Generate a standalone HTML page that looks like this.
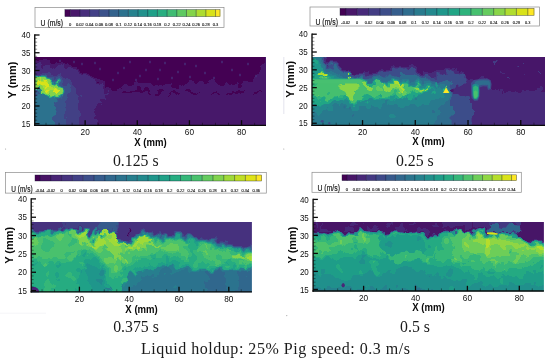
<!DOCTYPE html>
<html lang="en"><head><meta charset="utf-8"><title>Liquid holdup: 25% Pig speed: 0.3 m/s</title>
<style>html,body{margin:0;padding:0;background:#fff;overflow:hidden}svg{display:block}</style></head><body>
<svg width="550" height="361" viewBox="0 0 550 361">
<defs>
<filter id="soft2" x="-5%" y="-5%" width="110%" height="110%"><feGaussianBlur stdDeviation="0.35"/></filter>
<clipPath id="cp1"><rect x="34.75" y="57.10" width="231.25" height="68.60"/></clipPath>
<clipPath id="cp2"><rect x="312.00" y="57.10" width="233.00" height="68.50"/></clipPath>
<clipPath id="cp3"><rect x="31.20" y="221.90" width="220.70" height="70.30"/></clipPath>
<clipPath id="cp4"><rect x="313.10" y="222.10" width="230.80" height="69.20"/></clipPath>
<filter id="band1" color-interpolation-filters="sRGB" x="-5%" y="-10%" width="110%" height="120%">
<feTurbulence type="fractalNoise" baseFrequency="0.12" numOctaves="2" seed="7" result="n"/>
<feDisplacementMap in="SourceGraphic" in2="n" scale="13" xChannelSelector="R" yChannelSelector="G" result="d"/>
<feGaussianBlur in="d" stdDeviation="0.6" result="b"/>
<feTurbulence type="fractalNoise" baseFrequency="0.075" numOctaves="2" seed="11" result="n2"/>
<feColorMatrix in="n2" type="matrix" values="1 0 0 0 0  1 0 0 0 0  1 0 0 0 0  0 0 0 0 1" result="n3"/>
<feComposite in="b" in2="n3" operator="arithmetic" k1="0.22" k2="0.89" k3="0" k4="0" result="v"/>
<feComponentTransfer in="v"><feFuncR type="discrete" tableValues="0.267 0.282 0.279 0.259 0.230 0.199 0.173 0.149 0.128 0.121 0.158 0.246 0.369 0.516 0.678 0.846 0.993"/><feFuncG type="discrete" tableValues="0.005 0.095 0.175 0.252 0.322 0.388 0.449 0.508 0.567 0.626 0.684 0.739 0.789 0.831 0.864 0.887 0.906"/><feFuncB type="discrete" tableValues="0.329 0.417 0.483 0.525 0.546 0.555 0.558 0.557 0.551 0.533 0.502 0.452 0.383 0.294 0.190 0.100 0.144"/><feFuncA type="linear" slope="0" intercept="1"/></feComponentTransfer>
<feGaussianBlur stdDeviation="0.6"/>
</filter>
<filter id="band2" color-interpolation-filters="sRGB" x="-5%" y="-10%" width="110%" height="120%">
<feTurbulence type="fractalNoise" baseFrequency="0.12" numOctaves="2" seed="7" result="n"/>
<feDisplacementMap in="SourceGraphic" in2="n" scale="13" xChannelSelector="R" yChannelSelector="G" result="d"/>
<feGaussianBlur in="d" stdDeviation="0.6" result="b"/>
<feTurbulence type="fractalNoise" baseFrequency="0.075" numOctaves="2" seed="12" result="n2"/>
<feColorMatrix in="n2" type="matrix" values="1 0 0 0 0  1 0 0 0 0  1 0 0 0 0  0 0 0 0 1" result="n3"/>
<feComposite in="b" in2="n3" operator="arithmetic" k1="0.22" k2="0.89" k3="0" k4="0" result="v"/>
<feComponentTransfer in="v"><feFuncR type="discrete" tableValues="0.267 0.282 0.280 0.264 0.237 0.209 0.182 0.159 0.138 0.121 0.128 0.181 0.274 0.395 0.536 0.689 0.846 0.993"/><feFuncG type="discrete" tableValues="0.005 0.090 0.166 0.238 0.305 0.368 0.426 0.482 0.537 0.593 0.648 0.701 0.752 0.797 0.836 0.865 0.887 0.906"/><feFuncB type="discrete" tableValues="0.329 0.412 0.476 0.519 0.542 0.553 0.557 0.558 0.555 0.545 0.523 0.488 0.437 0.368 0.282 0.183 0.100 0.144"/><feFuncA type="linear" slope="0" intercept="1"/></feComponentTransfer>
<feGaussianBlur stdDeviation="0.6"/>
</filter>
<filter id="band3" color-interpolation-filters="sRGB" x="-5%" y="-10%" width="110%" height="120%">
<feTurbulence type="fractalNoise" baseFrequency="0.12" numOctaves="2" seed="7" result="n"/>
<feDisplacementMap in="SourceGraphic" in2="n" scale="13" xChannelSelector="R" yChannelSelector="G" result="d"/>
<feGaussianBlur in="d" stdDeviation="0.6" result="b"/>
<feTurbulence type="fractalNoise" baseFrequency="0.075" numOctaves="2" seed="13" result="n2"/>
<feColorMatrix in="n2" type="matrix" values="1 0 0 0 0  1 0 0 0 0  1 0 0 0 0  0 0 0 0 1" result="n3"/>
<feComposite in="b" in2="n3" operator="arithmetic" k1="0.22" k2="0.89" k3="0" k4="0" result="v"/>
<feComponentTransfer in="v"><feFuncR type="discrete" tableValues="0.267 0.280 0.283 0.275 0.259 0.237 0.212 0.191 0.171 0.153 0.136 0.122 0.122 0.150 0.208 0.289 0.395 0.506 0.627 0.752 0.876 0.993"/><feFuncG type="discrete" tableValues="0.005 0.073 0.136 0.195 0.252 0.305 0.360 0.407 0.453 0.497 0.541 0.589 0.633 0.677 0.719 0.758 0.797 0.829 0.855 0.875 0.891 0.906"/><feFuncB type="discrete" tableValues="0.329 0.397 0.453 0.496 0.525 0.542 0.552 0.556 0.558 0.558 0.554 0.546 0.530 0.507 0.473 0.428 0.368 0.300 0.223 0.143 0.095 0.144"/><feFuncA type="linear" slope="0" intercept="1"/></feComponentTransfer>
<feGaussianBlur stdDeviation="0.6"/>
</filter>
<filter id="band4" color-interpolation-filters="sRGB" x="-5%" y="-10%" width="110%" height="120%">
<feTurbulence type="fractalNoise" baseFrequency="0.12" numOctaves="2" seed="7" result="n"/>
<feDisplacementMap in="SourceGraphic" in2="n" scale="13" xChannelSelector="R" yChannelSelector="G" result="d"/>
<feGaussianBlur in="d" stdDeviation="0.6" result="b"/>
<feTurbulence type="fractalNoise" baseFrequency="0.075" numOctaves="2" seed="14" result="n2"/>
<feColorMatrix in="n2" type="matrix" values="1 0 0 0 0  1 0 0 0 0  1 0 0 0 0  0 0 0 0 1" result="n3"/>
<feComposite in="b" in2="n3" operator="arithmetic" k1="0.22" k2="0.89" k3="0" k4="0" result="v"/>
<feComponentTransfer in="v"><feFuncR type="discrete" tableValues="0.267 0.281 0.281 0.268 0.245 0.216 0.191 0.168 0.148 0.128 0.120 0.143 0.208 0.304 0.431 0.565 0.710 0.856 0.993"/><feFuncG type="discrete" tableValues="0.005 0.084 0.156 0.224 0.288 0.352 0.407 0.460 0.512 0.567 0.618 0.669 0.719 0.765 0.808 0.842 0.869 0.889 0.906"/><feFuncB type="discrete" tableValues="0.329 0.407 0.469 0.512 0.537 0.551 0.556 0.558 0.557 0.551 0.536 0.511 0.473 0.420 0.346 0.263 0.169 0.097 0.144"/><feFuncA type="linear" slope="0" intercept="1"/></feComponentTransfer>
<feGaussianBlur stdDeviation="0.6"/>
</filter>
</defs>
<rect width="550" height="361" fill="#fff"/>
<g id="plot1">
<g clip-path="url(#cp1)">
<g filter="url(#band1)">
<path d="M30.0 53.0 L270.0 53.0 L270.0 130.0 L30.0 130.0Z" fill="#080808"/>
<path d="M30.0 61.0 L60.0 61.0 L75.0 68.0 L90.0 77.0 L105.0 86.0 L118.0 92.0 L128.0 85.0 L150.0 83.0 L175.0 85.0 L190.0 82.0 L215.0 83.0 L240.0 85.0 L250.0 80.0 L258.0 74.0 L262.0 66.0 L263.0 53.0 L270.0 53.0 L270.0 130.0 L30.0 130.0Z" fill="#161616"/>
<path d="M122.0 91.5 L136.0 89.9 L150.0 91.2 L151.0 92.5 L136.0 93.3 L121.0 92.7Z" fill="#080808"/>
<path d="M156.0 92.0 L160.0 90.4 L164.0 91.7 L165.0 93.0 L160.0 93.8 L155.0 93.2Z" fill="#080808"/>
<path d="M170.0 91.8 L174.5 90.2 L179.0 91.5 L180.0 92.8 L174.5 93.6 L169.0 93.0Z" fill="#080808"/>
<path d="M186.0 92.3 L193.5 90.7 L201.0 92.0 L202.0 93.3 L193.5 94.1 L185.0 93.5Z" fill="#080808"/>
<path d="M212.0 92.5 L217.5 90.9 L223.0 92.2 L224.0 93.5 L217.5 94.3 L211.0 93.7Z" fill="#080808"/>
<path d="M228.0 92.3 L237.5 90.7 L247.0 92.0 L248.0 93.3 L237.5 94.1 L227.0 93.5Z" fill="#080808"/>
<path d="M252.0 92.0 L257.0 90.4 L262.0 91.7 L263.0 93.0 L257.0 93.8 L251.0 93.2Z" fill="#080808"/>
<path d="M30.0 64.0 L44.0 66.0 L48.0 64.5 L52.0 67.0 L58.0 65.0 L60.0 62.5 L62.0 66.0 L66.0 69.5 L70.0 67.5 L73.0 71.0 L78.0 72.0 L83.0 75.0 L88.0 78.0 L93.0 81.0 L98.0 84.0 L104.0 88.0 L108.0 92.0 L104.0 96.0 L100.0 102.0 L97.0 110.0 L95.0 118.0 L94.0 130.0 L30.0 130.0Z" fill="#262626"/>
<path d="M30.0 68.5 L42.0 69.5 L46.0 68.5 L50.0 70.5 L56.0 70.5 L60.0 68.5 L63.0 72.0 L68.0 75.0 L72.0 76.0 L76.0 79.0 L80.0 82.0 L84.0 86.0 L88.0 90.0 L90.0 95.0 L90.0 100.0 L89.0 104.0 L89.0 110.0 L90.0 118.0 L90.0 130.0 L30.0 130.0Z" fill="#262626"/>
<path d="M30.0 73.0 L40.0 74.0 L46.0 73.0 L52.0 74.0 L58.0 75.0 L62.0 77.0 L66.0 80.0 L70.0 83.0 L74.0 87.0 L78.0 92.0 L80.0 97.0 L79.0 102.0 L78.0 108.0 L78.0 116.0 L78.0 130.0 L30.0 130.0Z" fill="#343434"/>
<path d="M30.0 76.0 L40.0 76.0 L48.0 75.5 L54.0 76.5 L60.0 79.0 L64.0 82.5 L68.0 87.0 L70.0 91.0 L69.0 95.0 L67.0 98.0 L66.0 102.0 L65.0 110.0 L65.5 118.0 L66.0 130.0 L30.0 130.0Z" fill="#444444"/>
<path d="M30.0 92.0 L40.0 93.0 L48.0 95.0 L54.0 97.0 L57.0 100.0 L55.0 104.0 L54.0 110.0 L53.0 118.0 L53.0 130.0 L30.0 130.0Z" fill="#626262"/>
<path d="M27.7 77.9 L38.4 76.1 L44.2 75.9 L47.9 77.0 L51.9 78.7 L56.9 80.4 L60.3 83.1 L63.0 86.8 L64.4 91.6 L63.7 95.6 L60.9 97.9 L56.5 98.5 L53.1 97.6 L49.3 96.0 L44.8 94.2 L40.9 92.3 L36.6 90.9 L33.5 90.0 L27.5 89.2Z" fill="#626262"/>
<path d="M28.6 78.4 L39.0 76.9 L44.5 76.9 L47.9 78.0 L51.5 79.6 L56.1 81.0 L59.4 83.4 L62.0 86.9 L63.5 91.3 L62.8 95.2 L60.2 97.2 L55.9 97.7 L52.6 96.7 L49.2 95.0 L45.3 93.3 L41.7 91.8 L37.6 90.7 L34.5 89.8 L28.5 89.1Z" fill="#808080"/>
<path d="M29.4 78.7 L39.5 77.5 L44.8 77.6 L48.0 78.8 L51.2 80.3 L55.5 81.5 L58.7 83.7 L61.2 87.0 L62.7 91.2 L62.1 94.8 L59.5 96.7 L55.4 97.1 L52.3 95.9 L49.1 94.2 L45.7 92.6 L42.4 91.4 L38.3 90.5 L35.3 89.7 L29.3 89.0Z" fill="#acacac"/>
<path d="M30.0 79.0 L40.0 78.0 L45.0 78.3 L48.0 79.5 L51.0 81.0 L55.0 82.0 L58.0 84.0 L60.5 87.0 L62.0 91.0 L61.5 94.5 L59.0 96.3 L55.0 96.5 L52.0 95.3 L49.0 93.5 L46.0 92.0 L43.0 91.0 L39.0 90.3 L36.0 89.6 L30.0 89.0Z" fill="#cacaca"/>
<path d="M38.0 81.3 L42.0 80.3 L46.0 81.3 L47.5 84.0 L45.0 86.3 L41.0 86.8 L38.0 86.0Z" fill="#e8e8e8"/>
<path d="M51.5 87.0 L55.0 86.3 L58.0 88.0 L59.2 91.5 L57.5 94.3 L54.0 94.0 L51.5 91.0Z" fill="#e8e8e8"/>
<path d="M46.0 85.0 L52.0 86.0 L53.0 90.0 L49.0 91.0 L45.0 88.5Z" fill="#dadada"/>
</g>
<g filter="url(#soft2)">
<path d="M60.9 61.0 L60.5 62.3 L59.5 62.3 L59.1 61.0 L59.5 59.7 L60.5 59.7Z" fill="#472d7b"/>
<path d="M74.9 62.0 L74.5 63.3 L73.5 63.3 L73.1 62.0 L73.5 60.7 L74.5 60.7Z" fill="#472d7b"/>
<path d="M82.9 64.0 L82.5 65.3 L81.5 65.3 L81.1 64.0 L81.5 62.7 L82.5 62.7Z" fill="#472d7b"/>
<path d="M95.9 63.0 L95.5 64.3 L94.5 64.3 L94.1 63.0 L94.5 61.7 L95.5 61.7Z" fill="#472d7b"/>
<path d="M100.9 69.0 L100.5 70.3 L99.5 70.3 L99.1 69.0 L99.5 67.7 L100.5 67.7Z" fill="#472d7b"/>
<path d="M118.9 73.0 L118.5 74.3 L117.5 74.3 L117.1 73.0 L117.5 71.7 L118.5 71.7Z" fill="#472d7b"/>
<path d="M130.9 62.0 L130.4 63.3 L129.6 63.3 L129.1 62.0 L129.6 60.7 L130.4 60.7Z" fill="#472d7b"/>
<path d="M113.9 80.0 L113.5 81.3 L112.5 81.3 L112.1 80.0 L112.5 78.7 L113.5 78.7Z" fill="#472d7b"/>
<path d="M140.9 76.0 L140.4 77.3 L139.6 77.3 L139.1 76.0 L139.6 74.7 L140.4 74.7Z" fill="#472d7b"/>
<path d="M160.9 70.0 L160.4 71.3 L159.6 71.3 L159.1 70.0 L159.6 68.7 L160.4 68.7Z" fill="#472d7b"/>
<path d="M172.9 78.0 L172.4 79.3 L171.6 79.3 L171.1 78.0 L171.6 76.7 L172.4 76.7Z" fill="#472d7b"/>
<path d="M205.9 73.0 L205.4 74.3 L204.6 74.3 L204.1 73.0 L204.6 71.7 L205.4 71.7Z" fill="#472d7b"/>
<path d="M232.9 70.0 L232.4 71.3 L231.6 71.3 L231.1 70.0 L231.6 68.7 L232.4 68.7Z" fill="#472d7b"/>
<path d="M256.9 76.0 L256.4 77.3 L255.6 77.3 L255.1 76.0 L255.6 74.7 L256.4 74.7Z" fill="#472d7b"/>
<path d="M150.9 62.0 L150.4 63.3 L149.6 63.3 L149.1 62.0 L149.6 60.7 L150.4 60.7Z" fill="#472d7b"/>
<path d="M185.9 64.0 L185.4 65.3 L184.6 65.3 L184.1 64.0 L184.6 62.7 L185.4 62.7Z" fill="#472d7b"/>
<path d="M124.9 68.0 L124.5 69.3 L123.5 69.3 L123.1 68.0 L123.5 66.7 L124.5 66.7Z" fill="#472d7b"/>
<path d="M146.9 70.0 L146.4 71.3 L145.6 71.3 L145.1 70.0 L145.6 68.7 L146.4 68.7Z" fill="#472d7b"/>
<path d="M165.9 63.0 L165.4 64.3 L164.6 64.3 L164.1 63.0 L164.6 61.7 L165.4 61.7Z" fill="#472d7b"/>
<path d="M178.9 72.0 L178.4 73.3 L177.6 73.3 L177.1 72.0 L177.6 70.7 L178.4 70.7Z" fill="#472d7b"/>
<path d="M196.9 66.0 L196.4 67.3 L195.6 67.3 L195.1 66.0 L195.6 64.7 L196.4 64.7Z" fill="#472d7b"/>
<path d="M214.9 78.0 L214.4 79.3 L213.6 79.3 L213.1 78.0 L213.6 76.7 L214.4 76.7Z" fill="#472d7b"/>
<path d="M222.9 62.0 L222.4 63.3 L221.6 63.3 L221.1 62.0 L221.6 60.7 L222.4 60.7Z" fill="#472d7b"/>
<path d="M240.9 75.0 L240.4 76.3 L239.6 76.3 L239.1 75.0 L239.6 73.7 L240.4 73.7Z" fill="#472d7b"/>
<path d="M248.9 64.0 L248.4 65.3 L247.6 65.3 L247.1 64.0 L247.6 62.7 L248.4 62.7Z" fill="#472d7b"/>
<path d="M136.9 80.0 L136.4 81.3 L135.6 81.3 L135.1 80.0 L135.6 78.7 L136.4 78.7Z" fill="#472d7b"/>
<path d="M190.9 77.0 L190.4 78.3 L189.6 78.3 L189.1 77.0 L189.6 75.7 L190.4 75.7Z" fill="#472d7b"/>
<path d="M158.9 79.0 L158.4 80.3 L157.6 80.3 L157.1 79.0 L157.6 77.7 L158.4 77.7Z" fill="#472d7b"/>
</g>
</g>
<rect x="35.00" y="7.50" width="189.00" height="19.90" fill="#fff" stroke="#8a8a8a" stroke-width="0.7"/>
<rect x="64.90" y="9.60" width="5.60" height="7.00" fill="#440154"/>
<rect x="70.20" y="9.60" width="9.99" height="7.00" fill="#48186a"/>
<rect x="79.89" y="9.60" width="9.99" height="7.00" fill="#472d7b"/>
<rect x="89.58" y="9.60" width="9.99" height="7.00" fill="#424086"/>
<rect x="99.27" y="9.60" width="9.99" height="7.00" fill="#3b528b"/>
<rect x="108.96" y="9.60" width="9.99" height="7.00" fill="#33638d"/>
<rect x="118.65" y="9.60" width="9.99" height="7.00" fill="#2c728e"/>
<rect x="128.34" y="9.60" width="9.99" height="7.00" fill="#26828e"/>
<rect x="138.03" y="9.60" width="9.99" height="7.00" fill="#21918c"/>
<rect x="147.72" y="9.60" width="9.99" height="7.00" fill="#1fa088"/>
<rect x="157.41" y="9.60" width="9.99" height="7.00" fill="#28ae80"/>
<rect x="167.10" y="9.60" width="9.99" height="7.00" fill="#3fbc73"/>
<rect x="176.79" y="9.60" width="9.99" height="7.00" fill="#5ec962"/>
<rect x="186.48" y="9.60" width="9.99" height="7.00" fill="#84d44b"/>
<rect x="196.17" y="9.60" width="9.99" height="7.00" fill="#addc30"/>
<rect x="205.86" y="9.60" width="9.99" height="7.00" fill="#d8e219"/>
<rect x="215.55" y="9.60" width="4.75" height="7.00" fill="#fde725"/>
<line x1="70.20" y1="9.60" x2="70.20" y2="16.60" stroke="#141a30" stroke-opacity="0.8" stroke-width="0.55"/>
<line x1="79.89" y1="9.60" x2="79.89" y2="16.60" stroke="#141a30" stroke-opacity="0.8" stroke-width="0.55"/>
<line x1="89.58" y1="9.60" x2="89.58" y2="16.60" stroke="#141a30" stroke-opacity="0.8" stroke-width="0.55"/>
<line x1="99.27" y1="9.60" x2="99.27" y2="16.60" stroke="#141a30" stroke-opacity="0.8" stroke-width="0.55"/>
<line x1="108.96" y1="9.60" x2="108.96" y2="16.60" stroke="#141a30" stroke-opacity="0.8" stroke-width="0.55"/>
<line x1="118.65" y1="9.60" x2="118.65" y2="16.60" stroke="#141a30" stroke-opacity="0.8" stroke-width="0.55"/>
<line x1="128.34" y1="9.60" x2="128.34" y2="16.60" stroke="#141a30" stroke-opacity="0.8" stroke-width="0.55"/>
<line x1="138.03" y1="9.60" x2="138.03" y2="16.60" stroke="#141a30" stroke-opacity="0.8" stroke-width="0.55"/>
<line x1="147.72" y1="9.60" x2="147.72" y2="16.60" stroke="#141a30" stroke-opacity="0.8" stroke-width="0.55"/>
<line x1="157.41" y1="9.60" x2="157.41" y2="16.60" stroke="#141a30" stroke-opacity="0.8" stroke-width="0.55"/>
<line x1="167.10" y1="9.60" x2="167.10" y2="16.60" stroke="#141a30" stroke-opacity="0.8" stroke-width="0.55"/>
<line x1="176.79" y1="9.60" x2="176.79" y2="16.60" stroke="#141a30" stroke-opacity="0.8" stroke-width="0.55"/>
<line x1="186.48" y1="9.60" x2="186.48" y2="16.60" stroke="#141a30" stroke-opacity="0.8" stroke-width="0.55"/>
<line x1="196.17" y1="9.60" x2="196.17" y2="16.60" stroke="#141a30" stroke-opacity="0.8" stroke-width="0.55"/>
<line x1="205.86" y1="9.60" x2="205.86" y2="16.60" stroke="#141a30" stroke-opacity="0.8" stroke-width="0.55"/>
<line x1="215.55" y1="9.60" x2="215.55" y2="16.60" stroke="#141a30" stroke-opacity="0.8" stroke-width="0.55"/>
<rect x="64.90" y="9.60" width="155.10" height="7.00" fill="none" stroke="#1a2038" stroke-opacity="0.7" stroke-width="0.55"/>
<text x="40.60" y="26.40" font-family="Liberation Sans, Arial, Helvetica, sans-serif" font-size="8.5" fill="#1c1c1c" stroke="#1c1c1c" stroke-width="0.2" textLength="22.40" lengthAdjust="spacingAndGlyphs">U (m/s)</text>
<text x="70.20" y="25.70" font-family="Liberation Sans, Arial, Helvetica, sans-serif" font-size="4.25" fill="#111" stroke="#111" stroke-width="0.12" text-anchor="middle" textLength="2.27" lengthAdjust="spacingAndGlyphs">0</text>
<text x="79.89" y="25.70" font-family="Liberation Sans, Arial, Helvetica, sans-serif" font-size="4.25" fill="#111" stroke="#111" stroke-width="0.12" text-anchor="middle" textLength="7.94" lengthAdjust="spacingAndGlyphs">0.02</text>
<text x="89.58" y="25.70" font-family="Liberation Sans, Arial, Helvetica, sans-serif" font-size="4.25" fill="#111" stroke="#111" stroke-width="0.12" text-anchor="middle" textLength="7.94" lengthAdjust="spacingAndGlyphs">0.04</text>
<text x="99.27" y="25.70" font-family="Liberation Sans, Arial, Helvetica, sans-serif" font-size="4.25" fill="#111" stroke="#111" stroke-width="0.12" text-anchor="middle" textLength="7.94" lengthAdjust="spacingAndGlyphs">0.06</text>
<text x="108.96" y="25.70" font-family="Liberation Sans, Arial, Helvetica, sans-serif" font-size="4.25" fill="#111" stroke="#111" stroke-width="0.12" text-anchor="middle" textLength="7.94" lengthAdjust="spacingAndGlyphs">0.08</text>
<text x="118.65" y="25.70" font-family="Liberation Sans, Arial, Helvetica, sans-serif" font-size="4.25" fill="#111" stroke="#111" stroke-width="0.12" text-anchor="middle" textLength="5.67" lengthAdjust="spacingAndGlyphs">0.1</text>
<text x="128.34" y="25.70" font-family="Liberation Sans, Arial, Helvetica, sans-serif" font-size="4.25" fill="#111" stroke="#111" stroke-width="0.12" text-anchor="middle" textLength="7.94" lengthAdjust="spacingAndGlyphs">0.12</text>
<text x="138.03" y="25.70" font-family="Liberation Sans, Arial, Helvetica, sans-serif" font-size="4.25" fill="#111" stroke="#111" stroke-width="0.12" text-anchor="middle" textLength="7.94" lengthAdjust="spacingAndGlyphs">0.14</text>
<text x="147.72" y="25.70" font-family="Liberation Sans, Arial, Helvetica, sans-serif" font-size="4.25" fill="#111" stroke="#111" stroke-width="0.12" text-anchor="middle" textLength="7.94" lengthAdjust="spacingAndGlyphs">0.16</text>
<text x="157.41" y="25.70" font-family="Liberation Sans, Arial, Helvetica, sans-serif" font-size="4.25" fill="#111" stroke="#111" stroke-width="0.12" text-anchor="middle" textLength="7.94" lengthAdjust="spacingAndGlyphs">0.18</text>
<text x="167.10" y="25.70" font-family="Liberation Sans, Arial, Helvetica, sans-serif" font-size="4.25" fill="#111" stroke="#111" stroke-width="0.12" text-anchor="middle" textLength="5.67" lengthAdjust="spacingAndGlyphs">0.2</text>
<text x="176.79" y="25.70" font-family="Liberation Sans, Arial, Helvetica, sans-serif" font-size="4.25" fill="#111" stroke="#111" stroke-width="0.12" text-anchor="middle" textLength="7.94" lengthAdjust="spacingAndGlyphs">0.22</text>
<text x="186.48" y="25.70" font-family="Liberation Sans, Arial, Helvetica, sans-serif" font-size="4.25" fill="#111" stroke="#111" stroke-width="0.12" text-anchor="middle" textLength="7.94" lengthAdjust="spacingAndGlyphs">0.24</text>
<text x="196.17" y="25.70" font-family="Liberation Sans, Arial, Helvetica, sans-serif" font-size="4.25" fill="#111" stroke="#111" stroke-width="0.12" text-anchor="middle" textLength="7.94" lengthAdjust="spacingAndGlyphs">0.26</text>
<text x="205.86" y="25.70" font-family="Liberation Sans, Arial, Helvetica, sans-serif" font-size="4.25" fill="#111" stroke="#111" stroke-width="0.12" text-anchor="middle" textLength="7.94" lengthAdjust="spacingAndGlyphs">0.28</text>
<text x="215.55" y="25.70" font-family="Liberation Sans, Arial, Helvetica, sans-serif" font-size="4.25" fill="#111" stroke="#111" stroke-width="0.12" text-anchor="middle" textLength="5.67" lengthAdjust="spacingAndGlyphs">0.3</text>
<line x1="34.75" y1="34.30" x2="34.75" y2="126.05" stroke="#0a0a0a" stroke-width="1.35"/>
<line x1="34.10" y1="125.40" x2="266.00" y2="125.40" stroke="#0a0a0a" stroke-width="1.3"/>
<line x1="34.75" y1="123.75" x2="39.55" y2="123.75" stroke="#0a0a0a" stroke-width="1.3"/>
<text x="30.45" y="126.95" font-family="Liberation Sans, Arial, Helvetica, sans-serif" font-size="9.0" fill="#111" text-anchor="end" textLength="8.9" lengthAdjust="spacingAndGlyphs">15</text>
<line x1="34.75" y1="120.20" x2="37.15" y2="120.20" stroke="#0a0a0a" stroke-width="0.45"/>
<line x1="34.75" y1="116.65" x2="37.15" y2="116.65" stroke="#0a0a0a" stroke-width="0.45"/>
<line x1="34.75" y1="113.10" x2="37.15" y2="113.10" stroke="#0a0a0a" stroke-width="0.45"/>
<line x1="34.75" y1="109.55" x2="37.15" y2="109.55" stroke="#0a0a0a" stroke-width="0.45"/>
<line x1="34.75" y1="106.00" x2="39.55" y2="106.00" stroke="#0a0a0a" stroke-width="1.3"/>
<text x="30.45" y="109.20" font-family="Liberation Sans, Arial, Helvetica, sans-serif" font-size="9.0" fill="#111" text-anchor="end" textLength="8.9" lengthAdjust="spacingAndGlyphs">20</text>
<line x1="34.75" y1="102.45" x2="37.15" y2="102.45" stroke="#0a0a0a" stroke-width="0.45"/>
<line x1="34.75" y1="98.90" x2="37.15" y2="98.90" stroke="#0a0a0a" stroke-width="0.45"/>
<line x1="34.75" y1="95.35" x2="37.15" y2="95.35" stroke="#0a0a0a" stroke-width="0.45"/>
<line x1="34.75" y1="91.80" x2="37.15" y2="91.80" stroke="#0a0a0a" stroke-width="0.45"/>
<line x1="34.75" y1="88.25" x2="39.55" y2="88.25" stroke="#0a0a0a" stroke-width="1.3"/>
<text x="30.45" y="91.45" font-family="Liberation Sans, Arial, Helvetica, sans-serif" font-size="9.0" fill="#111" text-anchor="end" textLength="8.9" lengthAdjust="spacingAndGlyphs">25</text>
<line x1="34.75" y1="84.70" x2="37.15" y2="84.70" stroke="#0a0a0a" stroke-width="0.45"/>
<line x1="34.75" y1="81.15" x2="37.15" y2="81.15" stroke="#0a0a0a" stroke-width="0.45"/>
<line x1="34.75" y1="77.60" x2="37.15" y2="77.60" stroke="#0a0a0a" stroke-width="0.45"/>
<line x1="34.75" y1="74.05" x2="37.15" y2="74.05" stroke="#0a0a0a" stroke-width="0.45"/>
<line x1="34.75" y1="70.50" x2="39.55" y2="70.50" stroke="#0a0a0a" stroke-width="1.3"/>
<text x="30.45" y="73.70" font-family="Liberation Sans, Arial, Helvetica, sans-serif" font-size="9.0" fill="#111" text-anchor="end" textLength="8.9" lengthAdjust="spacingAndGlyphs">30</text>
<line x1="34.75" y1="66.95" x2="37.15" y2="66.95" stroke="#0a0a0a" stroke-width="0.45"/>
<line x1="34.75" y1="63.40" x2="37.15" y2="63.40" stroke="#0a0a0a" stroke-width="0.45"/>
<line x1="34.75" y1="59.85" x2="37.15" y2="59.85" stroke="#0a0a0a" stroke-width="0.45"/>
<line x1="34.75" y1="56.30" x2="37.15" y2="56.30" stroke="#0a0a0a" stroke-width="0.45"/>
<line x1="34.75" y1="52.75" x2="39.55" y2="52.75" stroke="#0a0a0a" stroke-width="1.3"/>
<text x="30.45" y="55.95" font-family="Liberation Sans, Arial, Helvetica, sans-serif" font-size="9.0" fill="#111" text-anchor="end" textLength="8.9" lengthAdjust="spacingAndGlyphs">35</text>
<line x1="34.75" y1="49.20" x2="37.15" y2="49.20" stroke="#0a0a0a" stroke-width="0.45"/>
<line x1="34.75" y1="45.65" x2="37.15" y2="45.65" stroke="#0a0a0a" stroke-width="0.45"/>
<line x1="34.75" y1="42.10" x2="37.15" y2="42.10" stroke="#0a0a0a" stroke-width="0.45"/>
<line x1="34.75" y1="38.55" x2="37.15" y2="38.55" stroke="#0a0a0a" stroke-width="0.45"/>
<line x1="34.75" y1="35.00" x2="39.55" y2="35.00" stroke="#0a0a0a" stroke-width="1.3"/>
<text x="30.45" y="38.20" font-family="Liberation Sans, Arial, Helvetica, sans-serif" font-size="9.0" fill="#111" text-anchor="end" textLength="8.9" lengthAdjust="spacingAndGlyphs">40</text>
<line x1="46.03" y1="125.40" x2="46.03" y2="122.80" stroke="#0a0a0a" stroke-width="0.45"/>
<line x1="59.07" y1="125.40" x2="59.07" y2="122.80" stroke="#0a0a0a" stroke-width="0.45"/>
<line x1="72.11" y1="125.40" x2="72.11" y2="122.80" stroke="#0a0a0a" stroke-width="0.45"/>
<line x1="85.14" y1="125.40" x2="85.14" y2="120.20" stroke="#0a0a0a" stroke-width="1.3"/>
<text x="85.14" y="135.20" font-family="Liberation Sans, Arial, Helvetica, sans-serif" font-size="8.9" fill="#111" text-anchor="middle" textLength="9.2" lengthAdjust="spacingAndGlyphs">20</text>
<line x1="98.18" y1="125.40" x2="98.18" y2="122.80" stroke="#0a0a0a" stroke-width="0.45"/>
<line x1="111.21" y1="125.40" x2="111.21" y2="122.80" stroke="#0a0a0a" stroke-width="0.45"/>
<line x1="124.25" y1="125.40" x2="124.25" y2="122.80" stroke="#0a0a0a" stroke-width="0.45"/>
<line x1="137.28" y1="125.40" x2="137.28" y2="120.20" stroke="#0a0a0a" stroke-width="1.3"/>
<text x="137.28" y="135.20" font-family="Liberation Sans, Arial, Helvetica, sans-serif" font-size="8.9" fill="#111" text-anchor="middle" textLength="9.2" lengthAdjust="spacingAndGlyphs">40</text>
<line x1="150.31" y1="125.40" x2="150.31" y2="122.80" stroke="#0a0a0a" stroke-width="0.45"/>
<line x1="163.35" y1="125.40" x2="163.35" y2="122.80" stroke="#0a0a0a" stroke-width="0.45"/>
<line x1="176.39" y1="125.40" x2="176.39" y2="122.80" stroke="#0a0a0a" stroke-width="0.45"/>
<line x1="189.42" y1="125.40" x2="189.42" y2="120.20" stroke="#0a0a0a" stroke-width="1.3"/>
<text x="189.42" y="135.20" font-family="Liberation Sans, Arial, Helvetica, sans-serif" font-size="8.9" fill="#111" text-anchor="middle" textLength="9.2" lengthAdjust="spacingAndGlyphs">60</text>
<line x1="202.46" y1="125.40" x2="202.46" y2="122.80" stroke="#0a0a0a" stroke-width="0.45"/>
<line x1="215.49" y1="125.40" x2="215.49" y2="122.80" stroke="#0a0a0a" stroke-width="0.45"/>
<line x1="228.53" y1="125.40" x2="228.53" y2="122.80" stroke="#0a0a0a" stroke-width="0.45"/>
<line x1="241.56" y1="125.40" x2="241.56" y2="120.20" stroke="#0a0a0a" stroke-width="1.3"/>
<text x="241.56" y="135.20" font-family="Liberation Sans, Arial, Helvetica, sans-serif" font-size="8.9" fill="#111" text-anchor="middle" textLength="9.2" lengthAdjust="spacingAndGlyphs">80</text>
<line x1="254.60" y1="125.40" x2="254.60" y2="122.80" stroke="#0a0a0a" stroke-width="0.45"/>
<text x="150.38" y="146.20" font-family="Liberation Sans, Arial, Helvetica, sans-serif" font-size="11" font-weight="bold" fill="#0a0a0a" text-anchor="middle" textLength="32.4" lengthAdjust="spacingAndGlyphs">X (mm)</text>
<text transform="translate(16.40 79.97) rotate(-90)" font-family="Liberation Sans, Arial, Helvetica, sans-serif" font-size="10.6" font-weight="bold" fill="#0a0a0a" text-anchor="middle" textLength="37" lengthAdjust="spacingAndGlyphs">Y (mm)</text>
<text x="135.80" y="165.80" font-family="Liberation Serif, DejaVu Serif, serif" font-size="15.8" fill="#1a1a1a" text-anchor="middle">0.125 s</text>
</g>
<g id="plot2">
<g clip-path="url(#cp2)">
<g filter="url(#band2)">
<path d="M303.0 48.0 L554.0 48.0 L554.0 134.0 L303.0 134.0Z" fill="#151515"/>
<path d="M303.0 48.0 L322.0 48.0 L328.0 60.0 L336.0 65.0 L344.0 69.0 L352.0 72.0 L360.0 74.0 L368.0 73.5 L376.0 71.0 L384.0 68.0 L392.0 67.0 L400.0 66.5 L410.0 66.5 L418.0 67.5 L422.0 71.0 L430.0 73.0 L438.0 72.0 L442.0 69.5 L450.0 68.5 L458.0 70.5 L464.0 74.0 L467.0 78.0 L470.0 80.0 L478.0 79.0 L487.0 80.0 L490.0 88.0 L500.0 91.0 L515.0 92.0 L530.0 90.0 L554.0 91.0 L554.0 134.0 L303.0 134.0Z" fill="#232323"/>
<path d="M303.0 48.0 L320.0 48.0 L326.0 61.0 L334.0 66.0 L342.0 70.0 L350.0 73.0 L358.0 75.0 L366.0 76.0 L374.0 74.0 L382.0 71.0 L390.0 70.0 L398.0 69.5 L406.0 69.5 L414.0 70.0 L420.0 72.0 L424.0 75.5 L432.0 77.0 L438.0 76.0 L444.0 73.0 L452.0 72.0 L458.0 73.5 L464.0 76.5 L467.0 80.0 L466.0 84.0 L460.0 85.0 L455.0 86.0 L453.5 90.0 L454.0 95.0 L458.0 97.0 L464.0 97.0 L470.0 98.0 L472.0 104.0 L472.0 112.0 L473.0 134.0 L303.0 134.0Z" fill="#404040"/>
<path d="M303.0 48.0 L318.0 48.0 L324.0 61.0 L330.0 66.0 L338.0 70.0 L346.0 74.0 L354.0 77.0 L362.0 79.0 L370.0 79.0 L378.0 77.0 L386.0 75.5 L394.0 75.5 L402.0 75.0 L410.0 75.0 L418.0 76.0 L424.0 79.0 L432.0 80.5 L440.0 80.5 L446.0 80.5 L451.0 82.5 L452.5 86.0 L452.0 92.0 L451.0 97.0 L452.0 104.0 L452.0 112.0 L451.0 134.0 L303.0 134.0Z" fill="#5c5c5c"/>
<path d="M303.0 48.0 L316.0 48.0 L321.0 62.0 L326.0 67.0 L332.0 71.0 L340.0 75.0 L348.0 78.0 L356.0 80.0 L364.0 81.0 L372.0 80.5 L380.0 80.5 L388.0 80.5 L396.0 79.8 L404.0 79.8 L412.0 80.6 L420.0 81.6 L428.0 82.6 L436.0 83.6 L444.0 85.0 L449.0 88.0 L450.0 94.0 L448.0 100.0 L444.0 104.0 L440.0 108.0 L438.0 114.0 L436.0 120.0 L436.0 134.0 L303.0 134.0Z" fill="#6a6a6a"/>
<path d="M303.0 58.0 L315.0 60.0 L319.0 64.0 L323.0 69.0 L329.0 73.0 L337.0 76.0 L345.0 79.0 L354.0 81.0 L362.0 82.0 L372.0 82.0 L382.0 82.0 L392.0 81.0 L402.0 81.0 L412.0 82.0 L422.0 83.0 L432.0 85.0 L440.0 87.0 L446.0 89.0 L448.0 93.0 L445.0 97.0 L440.0 100.0 L434.0 104.0 L428.0 108.0 L420.0 110.0 L410.0 112.0 L400.0 114.0 L392.0 118.0 L386.0 134.0 L303.0 134.0Z" fill="#6a6a6a"/>
<path d="M303.0 60.0 L316.0 62.0 L320.0 66.0 L324.0 70.0 L330.0 74.0 L338.0 77.0 L346.0 79.0 L354.0 81.0 L362.0 82.0 L372.0 82.0 L382.0 82.0 L392.0 81.0 L402.0 81.0 L412.0 82.0 L422.0 83.0 L432.0 85.0 L440.0 87.0 L446.0 89.0 L448.0 93.0 L445.0 97.0 L440.0 98.0 L434.0 100.0 L428.0 104.0 L422.0 102.0 L416.0 106.0 L410.0 104.0 L404.0 108.0 L398.0 106.0 L392.0 104.0 L386.0 106.0 L380.0 108.0 L372.0 106.0 L364.0 108.0 L356.0 110.0 L348.0 108.0 L340.0 106.0 L332.0 108.0 L324.0 110.0 L318.0 112.0 L303.0 114.0Z" fill="#787878"/>
<path d="M303.0 58.0 L314.0 59.5 L319.0 63.0 L322.0 68.0 L325.0 73.0 L330.0 77.0 L336.0 79.5 L303.0 79.5Z" fill="#878787"/>
<path d="M303.0 70.0 L316.0 72.0 L320.0 75.0 L326.0 78.0 L334.0 79.0 L342.0 79.5 L350.0 79.5 L358.0 80.0 L366.0 82.0 L374.0 82.0 L382.0 83.0 L392.0 82.5 L402.0 82.5 L412.0 83.0 L422.0 85.0 L430.0 87.0 L434.0 89.0 L432.0 92.0 L426.0 93.0 L420.0 94.0 L414.0 96.0 L408.0 99.0 L402.0 97.0 L396.0 99.0 L390.0 100.0 L384.0 98.0 L378.0 99.0 L372.0 101.0 L366.0 100.0 L360.0 103.0 L354.0 104.0 L348.0 102.0 L342.0 101.0 L336.0 102.0 L330.0 103.0 L324.0 102.0 L318.0 103.0 L303.0 104.0Z" fill="#959595"/>
<path d="M303.0 79.0 L330.0 79.5 L350.0 79.5 L360.0 80.5 L368.0 83.0 L376.0 83.0 L386.0 84.0 L396.0 83.5 L406.0 83.5 L416.0 85.0 L424.0 87.0 L430.0 88.5 L430.0 90.5 L424.0 91.5 L416.0 92.0 L408.0 95.0 L402.0 96.5 L398.0 95.0 L392.0 96.0 L386.0 97.5 L382.0 96.5 L378.0 95.5 L372.0 97.5 L366.0 96.5 L362.0 98.5 L358.0 100.5 L354.0 102.0 L350.0 100.0 L346.0 97.0 L340.0 98.0 L334.0 97.0 L328.0 99.0 L322.0 98.0 L316.0 99.0 L303.0 98.0Z" fill="#b1b1b1"/>
<path d="M342.0 82.0 L348.0 80.5 L354.0 82.0 L357.0 86.0 L356.0 92.0 L353.0 98.0 L349.0 100.0 L346.0 96.0 L343.0 90.0Z" fill="#cdcdcd"/>
<path d="M364.0 83.0 L370.0 83.0 L372.0 87.0 L368.0 89.0 L364.0 87.0Z" fill="#cdcdcd"/>
<path d="M384.0 85.0 L392.0 84.0 L400.0 84.0 L406.0 86.0 L404.0 90.0 L398.0 92.0 L394.0 90.0 L388.0 91.0 L384.0 89.0Z" fill="#cdcdcd"/>
<path d="M418.0 87.0 L430.0 88.5 L430.0 90.0 L420.0 90.5 L417.0 89.0Z" fill="#cdcdcd"/>
<path d="M398.0 84.0 L404.0 84.5 L405.0 87.0 L400.0 88.0 L397.0 86.0Z" fill="#dcdcdc"/>
<path d="M420.0 87.5 L428.0 88.5 L428.0 90.0 L420.0 89.5Z" fill="#dcdcdc"/>
<path d="M446.2 86.6 L450.0 93.6 L442.4 93.6Z" fill="#cdcdcd"/>
<path d="M318.5 74.5 L322.0 73.3 L325.0 74.0 L328.0 73.3 L329.5 76.0 L326.0 77.8 L322.0 77.2 L318.5 77.3Z" fill="#dcdcdc"/>
<path d="M347.8 75.0 L350.5 74.3 L351.3 77.8 L348.3 78.2Z" fill="#dcdcdc"/>
<ellipse cx="452.2" cy="90.7" rx="1.5" ry="1.5" fill="#151515"/>
<ellipse cx="436.8" cy="83.0" rx="1.6" ry="3.0" fill="#878787"/>
<ellipse cx="498.0" cy="62.0" rx="0.9" ry="1.6" fill="#323232"/>
<ellipse cx="503.0" cy="70.0" rx="0.9" ry="1.6" fill="#323232"/>
<ellipse cx="520.0" cy="66.0" rx="0.9" ry="1.6" fill="#323232"/>
<ellipse cx="524.0" cy="74.0" rx="0.9" ry="1.6" fill="#323232"/>
<ellipse cx="538.0" cy="73.0" rx="0.9" ry="1.6" fill="#323232"/>
<ellipse cx="508.0" cy="78.0" rx="0.9" ry="1.6" fill="#323232"/>
</g>
<g filter="url(#soft2)">
<path d="M323.8 121.3 L323.3 122.3 L322.2 122.7 L321.1 122.3 L320.6 121.3 L321.1 120.3 L322.2 119.9 L323.3 120.3Z" fill="#3d4e8a"/>
<path d="M330.6 123.2 L330.2 124.0 L329.3 124.3 L328.4 124.0 L328.0 123.2 L328.4 122.4 L329.3 122.1 L330.2 122.4Z" fill="#3d4e8a"/>
<path d="M345.5 107.0 L345.2 108.0 L344.5 108.4 L343.8 108.0 L343.5 107.0 L343.8 106.0 L344.5 105.6 L345.2 106.0Z" fill="#2e6d8e"/>
<path d="M351.0 108.0 L350.7 109.1 L350.0 109.5 L349.3 109.1 L349.0 108.0 L349.3 106.9 L350.0 106.5 L350.7 106.9Z" fill="#2e6d8e"/>
<path d="M303.0 78.6 L362.0 78.6 L366.0 80.5 L362.0 82.0 L303.0 82.0Z" fill="#21a585"/>
<path d="M303.0 79.3 L360.0 79.3 L364.0 81.0 L360.0 83.5 L303.0 83.5Z" fill="#46c06f"/>
<path d="M446.2 87.4 L449.2 93.0 L443.0 93.0Z" fill="#fde725"/>
<path d="M453.7 90.7 L453.3 91.8 L452.2 92.2 L451.1 91.8 L450.7 90.7 L451.1 89.6 L452.2 89.2 L453.3 89.6Z" fill="#481769"/>
<path d="M471.0 83.0 L474.0 80.0 L480.0 79.0 L486.0 78.6 L490.5 80.0 L491.5 84.0 L491.0 89.0 L488.0 90.0 L487.0 86.5 L483.0 86.3 L479.5 87.5 L479.5 96.0 L478.0 100.5 L474.5 101.0 L471.5 98.0 L471.0 90.0Z" fill="#3d4e8a"/>
<path d="M474.5 82.0 L478.0 80.6 L484.0 80.2 L489.0 80.6 L490.3 83.0 L490.0 88.0 L488.6 88.4 L488.0 85.0 L483.0 84.8 L479.0 85.6 L476.0 85.6Z" fill="#2e6d8e"/>
<path d="M472.4 85.0 L475.0 83.6 L478.8 85.0 L479.2 90.0 L479.0 96.0 L477.2 99.6 L474.0 99.2 L472.6 96.0 L472.3 90.0Z" fill="#23898e"/>
<path d="M473.2 87.0 L475.5 85.6 L478.0 87.0 L478.3 92.0 L478.0 96.5 L476.3 98.8 L474.0 98.4 L473.3 95.0 L473.1 90.0Z" fill="#2eb37c"/>
<path d="M473.8 91.5 L475.7 90.3 L477.5 92.0 L477.4 96.0 L476.0 98.1 L474.4 97.7 L473.8 95.0Z" fill="#46c06f"/>
</g>
</g>
<rect x="310.00" y="7.00" width="229.50" height="19.00" fill="#fff" stroke="#8a8a8a" stroke-width="0.7"/>
<rect x="340.00" y="8.30" width="6.10" height="7.10" fill="#440154"/>
<rect x="345.80" y="8.30" width="11.68" height="7.10" fill="#481769"/>
<rect x="357.18" y="8.30" width="11.68" height="7.10" fill="#472a7a"/>
<rect x="368.55" y="8.30" width="11.68" height="7.10" fill="#433d84"/>
<rect x="379.93" y="8.30" width="11.68" height="7.10" fill="#3d4e8a"/>
<rect x="391.30" y="8.30" width="11.68" height="7.10" fill="#355e8d"/>
<rect x="402.68" y="8.30" width="11.68" height="7.10" fill="#2e6d8e"/>
<rect x="414.05" y="8.30" width="11.68" height="7.10" fill="#297b8e"/>
<rect x="425.43" y="8.30" width="11.68" height="7.10" fill="#23898e"/>
<rect x="436.80" y="8.30" width="11.68" height="7.10" fill="#1f978b"/>
<rect x="448.18" y="8.30" width="11.68" height="7.10" fill="#21a585"/>
<rect x="459.55" y="8.30" width="11.68" height="7.10" fill="#2eb37c"/>
<rect x="470.93" y="8.30" width="11.68" height="7.10" fill="#46c06f"/>
<rect x="482.30" y="8.30" width="11.68" height="7.10" fill="#65cb5e"/>
<rect x="493.68" y="8.30" width="11.68" height="7.10" fill="#89d548"/>
<rect x="505.05" y="8.30" width="11.67" height="7.10" fill="#b0dd2f"/>
<rect x="516.42" y="8.30" width="11.68" height="7.10" fill="#d8e219"/>
<rect x="527.80" y="8.30" width="6.50" height="7.10" fill="#fde725"/>
<line x1="345.80" y1="8.30" x2="345.80" y2="15.40" stroke="#141a30" stroke-opacity="0.8" stroke-width="0.55"/>
<line x1="357.18" y1="8.30" x2="357.18" y2="15.40" stroke="#141a30" stroke-opacity="0.8" stroke-width="0.55"/>
<line x1="368.55" y1="8.30" x2="368.55" y2="15.40" stroke="#141a30" stroke-opacity="0.8" stroke-width="0.55"/>
<line x1="379.93" y1="8.30" x2="379.93" y2="15.40" stroke="#141a30" stroke-opacity="0.8" stroke-width="0.55"/>
<line x1="391.30" y1="8.30" x2="391.30" y2="15.40" stroke="#141a30" stroke-opacity="0.8" stroke-width="0.55"/>
<line x1="402.68" y1="8.30" x2="402.68" y2="15.40" stroke="#141a30" stroke-opacity="0.8" stroke-width="0.55"/>
<line x1="414.05" y1="8.30" x2="414.05" y2="15.40" stroke="#141a30" stroke-opacity="0.8" stroke-width="0.55"/>
<line x1="425.43" y1="8.30" x2="425.43" y2="15.40" stroke="#141a30" stroke-opacity="0.8" stroke-width="0.55"/>
<line x1="436.80" y1="8.30" x2="436.80" y2="15.40" stroke="#141a30" stroke-opacity="0.8" stroke-width="0.55"/>
<line x1="448.18" y1="8.30" x2="448.18" y2="15.40" stroke="#141a30" stroke-opacity="0.8" stroke-width="0.55"/>
<line x1="459.55" y1="8.30" x2="459.55" y2="15.40" stroke="#141a30" stroke-opacity="0.8" stroke-width="0.55"/>
<line x1="470.93" y1="8.30" x2="470.93" y2="15.40" stroke="#141a30" stroke-opacity="0.8" stroke-width="0.55"/>
<line x1="482.30" y1="8.30" x2="482.30" y2="15.40" stroke="#141a30" stroke-opacity="0.8" stroke-width="0.55"/>
<line x1="493.68" y1="8.30" x2="493.68" y2="15.40" stroke="#141a30" stroke-opacity="0.8" stroke-width="0.55"/>
<line x1="505.05" y1="8.30" x2="505.05" y2="15.40" stroke="#141a30" stroke-opacity="0.8" stroke-width="0.55"/>
<line x1="516.42" y1="8.30" x2="516.42" y2="15.40" stroke="#141a30" stroke-opacity="0.8" stroke-width="0.55"/>
<line x1="527.80" y1="8.30" x2="527.80" y2="15.40" stroke="#141a30" stroke-opacity="0.8" stroke-width="0.55"/>
<rect x="340.00" y="8.30" width="194.00" height="7.10" fill="none" stroke="#1a2038" stroke-opacity="0.7" stroke-width="0.55"/>
<text x="315.50" y="25.00" font-family="Liberation Sans, Arial, Helvetica, sans-serif" font-size="8.5" fill="#1c1c1c" stroke="#1c1c1c" stroke-width="0.2" textLength="22.50" lengthAdjust="spacingAndGlyphs">U (m/s)</text>
<text x="345.80" y="24.00" font-family="Liberation Sans, Arial, Helvetica, sans-serif" font-size="4.05" fill="#111" stroke="#111" stroke-width="0.12" text-anchor="middle" textLength="8.86" lengthAdjust="spacingAndGlyphs">-0.02</text>
<text x="357.18" y="24.00" font-family="Liberation Sans, Arial, Helvetica, sans-serif" font-size="4.05" fill="#111" stroke="#111" stroke-width="0.12" text-anchor="middle" textLength="2.16" lengthAdjust="spacingAndGlyphs">0</text>
<text x="368.55" y="24.00" font-family="Liberation Sans, Arial, Helvetica, sans-serif" font-size="4.05" fill="#111" stroke="#111" stroke-width="0.12" text-anchor="middle" textLength="7.57" lengthAdjust="spacingAndGlyphs">0.02</text>
<text x="379.93" y="24.00" font-family="Liberation Sans, Arial, Helvetica, sans-serif" font-size="4.05" fill="#111" stroke="#111" stroke-width="0.12" text-anchor="middle" textLength="7.57" lengthAdjust="spacingAndGlyphs">0.04</text>
<text x="391.30" y="24.00" font-family="Liberation Sans, Arial, Helvetica, sans-serif" font-size="4.05" fill="#111" stroke="#111" stroke-width="0.12" text-anchor="middle" textLength="7.57" lengthAdjust="spacingAndGlyphs">0.06</text>
<text x="402.68" y="24.00" font-family="Liberation Sans, Arial, Helvetica, sans-serif" font-size="4.05" fill="#111" stroke="#111" stroke-width="0.12" text-anchor="middle" textLength="7.57" lengthAdjust="spacingAndGlyphs">0.08</text>
<text x="414.05" y="24.00" font-family="Liberation Sans, Arial, Helvetica, sans-serif" font-size="4.05" fill="#111" stroke="#111" stroke-width="0.12" text-anchor="middle" textLength="5.40" lengthAdjust="spacingAndGlyphs">0.1</text>
<text x="425.43" y="24.00" font-family="Liberation Sans, Arial, Helvetica, sans-serif" font-size="4.05" fill="#111" stroke="#111" stroke-width="0.12" text-anchor="middle" textLength="7.57" lengthAdjust="spacingAndGlyphs">0.12</text>
<text x="436.80" y="24.00" font-family="Liberation Sans, Arial, Helvetica, sans-serif" font-size="4.05" fill="#111" stroke="#111" stroke-width="0.12" text-anchor="middle" textLength="7.57" lengthAdjust="spacingAndGlyphs">0.14</text>
<text x="448.18" y="24.00" font-family="Liberation Sans, Arial, Helvetica, sans-serif" font-size="4.05" fill="#111" stroke="#111" stroke-width="0.12" text-anchor="middle" textLength="7.57" lengthAdjust="spacingAndGlyphs">0.16</text>
<text x="459.55" y="24.00" font-family="Liberation Sans, Arial, Helvetica, sans-serif" font-size="4.05" fill="#111" stroke="#111" stroke-width="0.12" text-anchor="middle" textLength="7.57" lengthAdjust="spacingAndGlyphs">0.18</text>
<text x="470.93" y="24.00" font-family="Liberation Sans, Arial, Helvetica, sans-serif" font-size="4.05" fill="#111" stroke="#111" stroke-width="0.12" text-anchor="middle" textLength="5.40" lengthAdjust="spacingAndGlyphs">0.2</text>
<text x="482.30" y="24.00" font-family="Liberation Sans, Arial, Helvetica, sans-serif" font-size="4.05" fill="#111" stroke="#111" stroke-width="0.12" text-anchor="middle" textLength="7.57" lengthAdjust="spacingAndGlyphs">0.22</text>
<text x="493.68" y="24.00" font-family="Liberation Sans, Arial, Helvetica, sans-serif" font-size="4.05" fill="#111" stroke="#111" stroke-width="0.12" text-anchor="middle" textLength="7.57" lengthAdjust="spacingAndGlyphs">0.24</text>
<text x="505.05" y="24.00" font-family="Liberation Sans, Arial, Helvetica, sans-serif" font-size="4.05" fill="#111" stroke="#111" stroke-width="0.12" text-anchor="middle" textLength="7.57" lengthAdjust="spacingAndGlyphs">0.26</text>
<text x="516.42" y="24.00" font-family="Liberation Sans, Arial, Helvetica, sans-serif" font-size="4.05" fill="#111" stroke="#111" stroke-width="0.12" text-anchor="middle" textLength="7.57" lengthAdjust="spacingAndGlyphs">0.28</text>
<text x="527.80" y="24.00" font-family="Liberation Sans, Arial, Helvetica, sans-serif" font-size="4.05" fill="#111" stroke="#111" stroke-width="0.12" text-anchor="middle" textLength="5.40" lengthAdjust="spacingAndGlyphs">0.3</text>
<line x1="312.00" y1="33.50" x2="312.00" y2="125.95" stroke="#0a0a0a" stroke-width="1.35"/>
<line x1="311.35" y1="125.30" x2="545.00" y2="125.30" stroke="#0a0a0a" stroke-width="1.3"/>
<line x1="312.00" y1="123.25" x2="316.80" y2="123.25" stroke="#0a0a0a" stroke-width="1.3"/>
<text x="307.70" y="126.45" font-family="Liberation Sans, Arial, Helvetica, sans-serif" font-size="9.0" fill="#111" text-anchor="end" textLength="8.9" lengthAdjust="spacingAndGlyphs">15</text>
<line x1="312.00" y1="119.69" x2="314.40" y2="119.69" stroke="#0a0a0a" stroke-width="0.45"/>
<line x1="312.00" y1="116.13" x2="314.40" y2="116.13" stroke="#0a0a0a" stroke-width="0.45"/>
<line x1="312.00" y1="112.56" x2="314.40" y2="112.56" stroke="#0a0a0a" stroke-width="0.45"/>
<line x1="312.00" y1="109.00" x2="314.40" y2="109.00" stroke="#0a0a0a" stroke-width="0.45"/>
<line x1="312.00" y1="105.44" x2="316.80" y2="105.44" stroke="#0a0a0a" stroke-width="1.3"/>
<text x="307.70" y="108.64" font-family="Liberation Sans, Arial, Helvetica, sans-serif" font-size="9.0" fill="#111" text-anchor="end" textLength="8.9" lengthAdjust="spacingAndGlyphs">20</text>
<line x1="312.00" y1="101.88" x2="314.40" y2="101.88" stroke="#0a0a0a" stroke-width="0.45"/>
<line x1="312.00" y1="98.32" x2="314.40" y2="98.32" stroke="#0a0a0a" stroke-width="0.45"/>
<line x1="312.00" y1="94.75" x2="314.40" y2="94.75" stroke="#0a0a0a" stroke-width="0.45"/>
<line x1="312.00" y1="91.19" x2="314.40" y2="91.19" stroke="#0a0a0a" stroke-width="0.45"/>
<line x1="312.00" y1="87.63" x2="316.80" y2="87.63" stroke="#0a0a0a" stroke-width="1.3"/>
<text x="307.70" y="90.83" font-family="Liberation Sans, Arial, Helvetica, sans-serif" font-size="9.0" fill="#111" text-anchor="end" textLength="8.9" lengthAdjust="spacingAndGlyphs">25</text>
<line x1="312.00" y1="84.07" x2="314.40" y2="84.07" stroke="#0a0a0a" stroke-width="0.45"/>
<line x1="312.00" y1="80.51" x2="314.40" y2="80.51" stroke="#0a0a0a" stroke-width="0.45"/>
<line x1="312.00" y1="76.94" x2="314.40" y2="76.94" stroke="#0a0a0a" stroke-width="0.45"/>
<line x1="312.00" y1="73.38" x2="314.40" y2="73.38" stroke="#0a0a0a" stroke-width="0.45"/>
<line x1="312.00" y1="69.82" x2="316.80" y2="69.82" stroke="#0a0a0a" stroke-width="1.3"/>
<text x="307.70" y="73.02" font-family="Liberation Sans, Arial, Helvetica, sans-serif" font-size="9.0" fill="#111" text-anchor="end" textLength="8.9" lengthAdjust="spacingAndGlyphs">30</text>
<line x1="312.00" y1="66.26" x2="314.40" y2="66.26" stroke="#0a0a0a" stroke-width="0.45"/>
<line x1="312.00" y1="62.70" x2="314.40" y2="62.70" stroke="#0a0a0a" stroke-width="0.45"/>
<line x1="312.00" y1="59.13" x2="314.40" y2="59.13" stroke="#0a0a0a" stroke-width="0.45"/>
<line x1="312.00" y1="55.57" x2="314.40" y2="55.57" stroke="#0a0a0a" stroke-width="0.45"/>
<line x1="312.00" y1="52.01" x2="316.80" y2="52.01" stroke="#0a0a0a" stroke-width="1.3"/>
<text x="307.70" y="55.21" font-family="Liberation Sans, Arial, Helvetica, sans-serif" font-size="9.0" fill="#111" text-anchor="end" textLength="8.9" lengthAdjust="spacingAndGlyphs">35</text>
<line x1="312.00" y1="48.45" x2="314.40" y2="48.45" stroke="#0a0a0a" stroke-width="0.45"/>
<line x1="312.00" y1="44.89" x2="314.40" y2="44.89" stroke="#0a0a0a" stroke-width="0.45"/>
<line x1="312.00" y1="41.32" x2="314.40" y2="41.32" stroke="#0a0a0a" stroke-width="0.45"/>
<line x1="312.00" y1="37.76" x2="314.40" y2="37.76" stroke="#0a0a0a" stroke-width="0.45"/>
<line x1="312.00" y1="34.20" x2="316.80" y2="34.20" stroke="#0a0a0a" stroke-width="1.3"/>
<text x="307.70" y="37.40" font-family="Liberation Sans, Arial, Helvetica, sans-serif" font-size="9.0" fill="#111" text-anchor="end" textLength="8.9" lengthAdjust="spacingAndGlyphs">40</text>
<line x1="322.99" y1="125.30" x2="322.99" y2="122.70" stroke="#0a0a0a" stroke-width="0.45"/>
<line x1="336.17" y1="125.30" x2="336.17" y2="122.70" stroke="#0a0a0a" stroke-width="0.45"/>
<line x1="349.36" y1="125.30" x2="349.36" y2="122.70" stroke="#0a0a0a" stroke-width="0.45"/>
<line x1="362.54" y1="125.30" x2="362.54" y2="120.10" stroke="#0a0a0a" stroke-width="1.3"/>
<text x="362.54" y="135.00" font-family="Liberation Sans, Arial, Helvetica, sans-serif" font-size="8.9" fill="#111" text-anchor="middle" textLength="9.2" lengthAdjust="spacingAndGlyphs">20</text>
<line x1="375.73" y1="125.30" x2="375.73" y2="122.70" stroke="#0a0a0a" stroke-width="0.45"/>
<line x1="388.91" y1="125.30" x2="388.91" y2="122.70" stroke="#0a0a0a" stroke-width="0.45"/>
<line x1="402.10" y1="125.30" x2="402.10" y2="122.70" stroke="#0a0a0a" stroke-width="0.45"/>
<line x1="415.28" y1="125.30" x2="415.28" y2="120.10" stroke="#0a0a0a" stroke-width="1.3"/>
<text x="415.28" y="135.00" font-family="Liberation Sans, Arial, Helvetica, sans-serif" font-size="8.9" fill="#111" text-anchor="middle" textLength="9.2" lengthAdjust="spacingAndGlyphs">40</text>
<line x1="428.47" y1="125.30" x2="428.47" y2="122.70" stroke="#0a0a0a" stroke-width="0.45"/>
<line x1="441.65" y1="125.30" x2="441.65" y2="122.70" stroke="#0a0a0a" stroke-width="0.45"/>
<line x1="454.84" y1="125.30" x2="454.84" y2="122.70" stroke="#0a0a0a" stroke-width="0.45"/>
<line x1="468.02" y1="125.30" x2="468.02" y2="120.10" stroke="#0a0a0a" stroke-width="1.3"/>
<text x="468.02" y="135.00" font-family="Liberation Sans, Arial, Helvetica, sans-serif" font-size="8.9" fill="#111" text-anchor="middle" textLength="9.2" lengthAdjust="spacingAndGlyphs">60</text>
<line x1="481.21" y1="125.30" x2="481.21" y2="122.70" stroke="#0a0a0a" stroke-width="0.45"/>
<line x1="494.39" y1="125.30" x2="494.39" y2="122.70" stroke="#0a0a0a" stroke-width="0.45"/>
<line x1="507.58" y1="125.30" x2="507.58" y2="122.70" stroke="#0a0a0a" stroke-width="0.45"/>
<line x1="520.76" y1="125.30" x2="520.76" y2="120.10" stroke="#0a0a0a" stroke-width="1.3"/>
<text x="520.76" y="135.00" font-family="Liberation Sans, Arial, Helvetica, sans-serif" font-size="8.9" fill="#111" text-anchor="middle" textLength="9.2" lengthAdjust="spacingAndGlyphs">80</text>
<line x1="533.95" y1="125.30" x2="533.95" y2="122.70" stroke="#0a0a0a" stroke-width="0.45"/>
<text x="428.50" y="145.00" font-family="Liberation Sans, Arial, Helvetica, sans-serif" font-size="11" font-weight="bold" fill="#0a0a0a" text-anchor="middle" textLength="32.4" lengthAdjust="spacingAndGlyphs">X (mm)</text>
<text transform="translate(294.20 79.32) rotate(-90)" font-family="Liberation Sans, Arial, Helvetica, sans-serif" font-size="10.6" font-weight="bold" fill="#0a0a0a" text-anchor="middle" textLength="37" lengthAdjust="spacingAndGlyphs">Y (mm)</text>
<text x="414.80" y="165.80" font-family="Liberation Serif, DejaVu Serif, serif" font-size="15.8" fill="#1a1a1a" text-anchor="middle">0.25 s</text>
</g>
<g id="plot3">
<g clip-path="url(#cp3)">
<g filter="url(#band3)">
<path d="M22.0 213.0 L260.0 213.0 L260.0 300.0 L22.0 300.0Z" fill="#292929"/>
<path d="M22.0 213.0 L66.0 213.0 L66.0 228.0 L56.0 230.0 L40.0 231.0 L22.0 231.0Z" fill="#292929"/>
<path d="M64.0 213.0 L120.0 213.0 L119.0 228.0 L117.0 236.0 L110.0 232.0 L100.0 234.0 L90.0 238.0 L84.0 229.0 L66.0 226.0Z" fill="#343434"/>
<path d="M99.0 213.0 L118.0 213.0 L117.5 228.0 L116.0 234.0 L110.0 231.0 L104.0 231.0 L100.0 233.0 L98.0 228.0Z" fill="#4b4b4b"/>
<path d="M22.0 230.2 L40.0 230.2 L49.0 229.9 L56.0 229.5 L60.0 229.0 L64.0 227.6 L67.0 226.1 L70.0 227.5 L76.0 228.9 L84.0 228.7 L86.0 231.7 L88.0 236.6 L90.5 237.6 L92.5 231.6 L95.4 228.1 L98.0 229.4 L100.0 233.4 L102.5 234.3 L105.0 230.3 L108.0 228.8 L112.0 229.2 L115.0 233.1 L117.0 237.1 L121.0 239.9 L129.5 239.5 L133.7 236.0 L137.9 233.7 L142.0 230.5 L146.3 232.3 L150.0 231.4 L154.7 234.3 L159.0 233.3 L163.2 235.2 L167.0 233.2 L171.6 234.1 L176.0 232.1 L180.0 233.0 L186.5 233.9 L192.0 234.8 L197.0 237.0 L202.0 237.2 L207.6 239.0 L213.0 239.1 L218.0 240.9 L223.0 241.5 L228.6 242.9 L234.0 243.3 L239.0 244.9 L245.0 245.2 L260.0 246.7 L260.0 300.0 L22.0 300.0Z" fill="#404040"/>
<path d="M22.0 230.7 L40.0 230.6 L49.0 230.3 L56.0 229.8 L60.0 229.3 L64.0 228.0 L67.0 226.5 L70.0 227.9 L76.0 229.4 L84.0 229.4 L86.0 232.4 L88.0 237.4 L90.5 238.3 L92.5 232.3 L95.4 228.9 L98.0 230.3 L100.0 234.3 L102.5 235.3 L105.0 231.3 L108.0 229.9 L112.0 230.2 L115.0 234.2 L117.0 238.2 L121.0 241.1 L129.5 240.8 L133.7 237.4 L137.9 235.1 L142.0 232.0 L146.3 233.8 L150.0 232.9 L154.7 235.9 L159.0 234.8 L163.2 236.8 L167.0 234.8 L171.6 235.7 L176.0 233.7 L180.0 234.7 L186.5 235.6 L192.0 236.6 L197.0 238.7 L202.0 239.0 L207.6 240.7 L213.0 240.9 L218.0 242.8 L223.0 243.3 L228.6 244.8 L234.0 245.2 L239.0 246.8 L245.0 247.1 L260.0 248.7 L260.0 300.0 L22.0 300.0Z" fill="#636363"/>
<path d="M207.0 272.0 L214.0 270.0 L222.0 271.0 L226.0 276.0 L225.0 300.0 L208.0 300.0Z" fill="#575757"/>
<path d="M238.0 271.0 L246.0 270.0 L260.0 270.0 L260.0 300.0 L237.0 300.0Z" fill="#575757"/>
<path d="M22.0 231.3 L40.0 231.3 L49.0 231.0 L56.0 230.6 L60.0 230.1 L64.0 228.8 L67.0 227.3 L70.0 228.8 L76.0 230.3 L84.0 230.3 L86.0 233.3 L88.0 238.3 L90.5 239.3 L92.5 233.3 L95.4 229.9 L98.0 231.3 L100.0 235.3 L102.5 236.3 L105.0 232.3 L108.0 230.9 L112.0 231.3 L115.0 235.3 L117.0 239.3 L121.0 242.3 L129.5 242.5 L133.7 239.3 L137.9 237.3 L142.0 234.2 L146.3 235.9 L150.0 234.9 L154.7 237.7 L159.0 236.5 L163.2 238.3 L167.0 236.1 L171.6 237.0 L176.0 235.0 L180.0 235.9 L186.5 236.9 L192.0 237.9 L197.0 240.0 L202.0 240.3 L207.6 242.1 L213.0 242.3 L218.0 244.1 L223.0 244.7 L228.6 246.2 L234.0 246.6 L239.0 248.2 L245.0 248.6 L260.0 250.2 L260.0 270.0 L240.0 270.0 L228.0 271.0 L218.0 270.5 L207.0 271.0 L197.0 271.2 L186.0 271.9 L176.0 272.3 L165.0 273.6 L155.0 275.9 L146.0 277.9 L140.0 279.8 L136.0 283.6 L132.0 289.6 L128.0 303.4 L22.0 300.0Z" fill="#6e6e6e"/>
<path d="M22.0 231.9 L40.0 231.9 L49.0 231.6 L56.0 231.2 L60.0 230.7 L64.0 229.4 L67.0 227.9 L70.0 229.4 L76.0 230.9 L84.0 230.9 L86.0 233.9 L88.0 238.9 L90.5 239.9 L92.5 233.9 L95.4 230.5 L98.0 231.9 L100.0 235.9 L102.5 236.9 L105.0 232.9 L108.0 231.5 L112.0 231.9 L115.0 235.9 L117.0 239.9 L121.0 242.9 L129.5 243.1 L133.7 239.9 L137.9 237.9 L142.0 234.9 L146.3 236.7 L150.0 235.7 L154.7 238.6 L159.0 237.5 L163.2 239.4 L167.0 237.3 L171.6 238.2 L176.0 236.2 L180.0 237.2 L186.5 238.2 L192.0 239.2 L197.0 241.3 L202.0 241.6 L207.6 243.4 L213.0 243.6 L218.0 245.5 L223.0 246.1 L228.6 247.6 L234.0 248.1 L239.0 249.6 L245.0 250.0 L260.0 251.7 L260.0 267.5 L240.0 268.0 L228.0 269.0 L218.0 268.5 L207.0 269.0 L197.0 269.2 L186.0 268.9 L176.0 267.3 L170.0 265.4 L163.0 266.6 L155.0 268.9 L146.0 269.9 L138.0 271.7 L132.0 273.6 L126.0 277.4 L118.0 279.2 L110.0 283.0 L104.0 287.8 L100.0 301.0 L22.0 300.0Z" fill="#919191"/>
<path d="M22.0 232.5 L40.0 232.5 L49.0 232.2 L56.0 231.8 L60.0 231.3 L64.0 230.0 L67.0 228.5 L70.0 230.0 L76.0 231.5 L84.0 231.5 L86.0 234.5 L88.0 239.5 L90.5 240.5 L92.5 234.5 L95.4 231.1 L98.0 232.5 L100.0 236.5 L102.5 237.5 L105.0 233.5 L108.0 232.1 L112.0 232.5 L115.0 236.5 L117.0 240.5 L121.0 243.5 L129.5 243.7 L133.7 240.5 L137.9 238.5 L142.0 235.5 L146.3 237.4 L150.0 236.5 L154.7 239.5 L159.0 238.5 L163.2 240.5 L167.0 238.5 L171.6 239.5 L176.0 237.5 L180.0 238.5 L186.5 239.5 L192.0 240.5 L197.0 242.7 L202.0 243.0 L207.6 244.8 L213.0 245.0 L218.0 246.9 L223.0 247.5 L228.6 249.0 L234.0 249.5 L239.0 251.1 L245.0 251.5 L260.0 253.2 L260.0 267.0 L240.0 267.5 L228.0 268.5 L218.0 268.0 L207.0 268.5 L197.0 268.0 L186.0 266.0 L178.0 263.0 L172.0 260.0 L166.0 261.0 L158.0 264.0 L150.0 266.0 L142.0 267.0 L136.0 270.0 L130.0 274.0 L126.0 280.0 L122.0 286.0 L120.0 300.0 L112.0 300.0 L108.0 285.0 L105.0 278.0 L102.0 270.0 L99.0 263.0 L94.0 259.0 L88.0 259.0 L85.0 264.0 L82.0 272.0 L79.0 280.0 L76.0 288.0 L72.0 300.0 L22.0 300.0Z" fill="#9c9c9c"/>
<path d="M90.0 263.0 L96.0 265.0 L100.0 271.0 L104.0 279.0 L106.0 287.0 L105.0 300.0 L92.0 300.0 L88.0 285.0 L86.0 275.0 L87.0 267.0Z" fill="#858585"/>
<path d="M22.0 236.2 L40.0 236.2 L49.0 235.9 L56.0 235.4 L60.0 234.4 L64.0 232.7 L67.0 230.8 L70.0 232.0 L76.0 232.8 L84.0 232.3 L86.0 235.3 L88.0 240.3 L90.5 241.3 L92.5 235.3 L95.4 231.9 L98.0 233.3 L100.0 237.3 L102.5 238.3 L105.0 234.3 L108.0 232.9 L112.0 233.3 L115.0 237.3 L117.0 241.3 L121.0 244.3 L129.5 244.5 L133.7 241.3 L137.9 239.3 L142.0 236.3 L146.3 238.2 L150.0 237.3 L154.7 240.3 L159.0 239.3 L163.2 241.3 L167.0 239.3 L171.6 240.3 L176.0 238.3 L180.0 239.3 L186.5 240.3 L192.0 241.3 L197.0 243.5 L202.0 243.8 L207.6 245.6 L213.0 245.8 L218.0 247.7 L223.0 248.3 L228.6 249.8 L234.0 250.3 L239.0 251.9 L245.0 252.3 L260.0 254.0 L260.0 264.5 L240.0 265.0 L228.0 266.0 L218.0 265.5 L207.0 266.0 L197.0 265.0 L186.0 262.0 L176.0 258.0 L168.0 255.0 L160.0 258.0 L152.0 260.0 L144.0 259.0 L136.0 261.0 L130.0 264.0 L126.0 270.0 L122.0 274.0 L118.0 278.0 L115.0 283.0 L112.0 277.0 L108.0 272.0 L104.0 266.0 L100.0 260.0 L94.0 256.0 L88.0 254.0 L82.0 254.0 L76.0 257.0 L70.0 261.0 L62.0 264.0 L54.0 265.0 L46.0 264.0 L38.0 262.0 L22.0 261.0Z" fill="#a8a8a8"/>
<path d="M22.0 237.0 L40.0 237.0 L50.0 236.0 L60.0 234.0 L68.0 231.5 L76.0 231.0 L84.0 231.5 L86.0 236.0 L88.0 241.0 L91.0 242.0 L93.5 236.0 L96.0 233.5 L99.0 236.0 L102.0 239.5 L105.0 236.0 L108.0 234.0 L112.0 235.0 L115.0 239.0 L117.0 243.0 L121.0 245.5 L130.0 245.5 L134.0 242.5 L138.0 240.5 L142.0 238.0 L146.0 239.5 L150.0 239.0 L155.0 241.5 L158.0 240.8 L158.0 252.5 L156.0 253.0 L148.0 254.0 L140.0 254.0 L134.0 256.0 L128.0 260.0 L124.0 266.0 L120.0 270.0 L116.0 272.0 L112.0 270.0 L108.0 266.0 L104.0 261.0 L100.0 256.0 L94.0 252.0 L88.0 250.0 L82.0 250.0 L76.0 252.0 L70.0 255.0 L62.0 258.0 L54.0 259.0 L46.0 258.0 L38.0 257.0 L22.0 255.0Z" fill="#b4b4b4"/>
<path d="M158.0 240.8 L159.0 240.5 L163.0 242.5 L167.0 240.5 L172.0 241.5 L176.0 239.5 L180.0 240.5 L186.0 241.5 L190.0 242.2 L190.0 257.1 L186.0 256.0 L176.0 252.0 L170.0 250.0 L164.0 251.0 L158.0 252.5Z" fill="#b4b4b4"/>
<path d="M190.0 242.2 L192.0 242.5 L197.0 244.5 L202.0 245.0 L207.6 246.5 L213.0 247.0 L218.0 248.5 L223.0 249.5 L228.6 250.5 L234.0 251.5 L239.0 252.5 L245.0 253.5 L260.0 254.5 L260.0 262.5 L240.0 263.0 L228.0 263.0 L218.0 262.0 L207.0 261.5 L197.0 259.0 L190.0 257.1Z" fill="#a8a8a8"/>
<path d="M98.0 240.0 L104.0 240.0 L112.0 246.0 L120.0 254.0 L126.0 262.0 L122.0 264.0 L114.0 256.0 L106.0 249.0 L99.0 244.0Z" fill="#cbcbcb"/>
<path d="M72.0 232.0 L84.0 232.5 L86.0 238.0 L88.0 242.0 L92.0 243.0 L94.0 237.0 L97.0 235.0 L100.0 238.0 L103.0 241.0 L106.0 238.0 L109.0 235.0 L113.0 237.0 L116.0 243.0 L120.0 247.0 L130.0 247.5 L135.0 244.0 L140.0 241.0 L146.0 241.0 L152.0 243.0 L160.0 245.0 L166.0 244.0 L160.0 247.0 L150.0 247.0 L140.0 248.0 L130.0 251.0 L120.0 252.0 L110.0 250.0 L100.0 247.0 L92.0 246.0 L84.0 243.0 L76.0 240.0 L72.0 237.0Z" fill="#cbcbcb"/>
<path d="M197.0 246.0 L207.0 248.0 L218.0 250.0 L228.0 252.0 L240.0 253.5 L260.0 255.0 L260.0 260.0 L240.0 260.5 L228.0 260.0 L218.0 258.0 L207.0 255.0 L197.0 251.0Z" fill="#b4b4b4"/>
<path d="M100.0 232.5 L105.0 231.5 L110.0 232.0 L116.0 236.5 L118.0 241.0 L121.0 244.0 L128.0 244.5 L124.0 247.0 L117.0 246.0 L112.0 242.0 L108.0 237.0 L103.0 236.0 L100.0 235.0Z" fill="#d6d6d6"/>
<path d="M76.0 233.0 L84.0 233.5 L86.0 238.0 L82.0 239.0 L78.0 237.0Z" fill="#d6d6d6"/>
<path d="M136.0 240.0 L142.0 236.5 L147.0 238.0 L152.0 239.5 L148.0 242.0 L140.0 243.0Z" fill="#d6d6d6"/>
<path d="M232.0 253.0 L240.0 254.0 L246.0 255.0 L246.0 259.0 L238.0 259.5 L232.0 257.5Z" fill="#cbcbcb"/>
<path d="M248.0 255.5 L260.0 255.5 L260.0 260.0 L248.0 259.5Z" fill="#cbcbcb"/>
<ellipse cx="129.5" cy="232.7" rx="1.0" ry="1.5" fill="#060606"/>
</g>
<g filter="url(#soft2)">
<path d="M22.0 286.8 L35.0 287.0 L37.5 288.3 L39.0 290.5 L39.5 300.0 L22.0 300.0Z" fill="#482374"/>
</g>
</g>
<rect x="5.50" y="172.50" width="260.80" height="20.60" fill="#fff" stroke="#8a8a8a" stroke-width="0.7"/>
<rect x="35.00" y="175.00" width="5.30" height="6.00" fill="#440154"/>
<rect x="40.00" y="175.00" width="11.11" height="6.00" fill="#471365"/>
<rect x="50.81" y="175.00" width="11.11" height="6.00" fill="#482374"/>
<rect x="61.62" y="175.00" width="11.11" height="6.00" fill="#46327e"/>
<rect x="72.43" y="175.00" width="11.11" height="6.00" fill="#424086"/>
<rect x="83.24" y="175.00" width="11.11" height="6.00" fill="#3d4e8a"/>
<rect x="94.05" y="175.00" width="11.11" height="6.00" fill="#365c8d"/>
<rect x="104.86" y="175.00" width="11.11" height="6.00" fill="#31688e"/>
<rect x="115.67" y="175.00" width="11.11" height="6.00" fill="#2c738e"/>
<rect x="126.48" y="175.00" width="11.11" height="6.00" fill="#277f8e"/>
<rect x="137.29" y="175.00" width="11.11" height="6.00" fill="#238a8d"/>
<rect x="148.10" y="175.00" width="11.11" height="6.00" fill="#1f968b"/>
<rect x="158.91" y="175.00" width="11.11" height="6.00" fill="#1fa187"/>
<rect x="169.72" y="175.00" width="11.11" height="6.00" fill="#26ad81"/>
<rect x="180.53" y="175.00" width="11.11" height="6.00" fill="#35b779"/>
<rect x="191.34" y="175.00" width="11.11" height="6.00" fill="#4ac16d"/>
<rect x="202.15" y="175.00" width="11.11" height="6.00" fill="#65cb5e"/>
<rect x="212.96" y="175.00" width="11.11" height="6.00" fill="#81d34d"/>
<rect x="223.77" y="175.00" width="11.11" height="6.00" fill="#a0da39"/>
<rect x="234.58" y="175.00" width="11.11" height="6.00" fill="#c0df25"/>
<rect x="245.39" y="175.00" width="11.11" height="6.00" fill="#dfe318"/>
<rect x="256.20" y="175.00" width="5.60" height="6.00" fill="#fde725"/>
<line x1="40.00" y1="175.00" x2="40.00" y2="181.00" stroke="#141a30" stroke-opacity="0.8" stroke-width="0.55"/>
<line x1="50.81" y1="175.00" x2="50.81" y2="181.00" stroke="#141a30" stroke-opacity="0.8" stroke-width="0.55"/>
<line x1="61.62" y1="175.00" x2="61.62" y2="181.00" stroke="#141a30" stroke-opacity="0.8" stroke-width="0.55"/>
<line x1="72.43" y1="175.00" x2="72.43" y2="181.00" stroke="#141a30" stroke-opacity="0.8" stroke-width="0.55"/>
<line x1="83.24" y1="175.00" x2="83.24" y2="181.00" stroke="#141a30" stroke-opacity="0.8" stroke-width="0.55"/>
<line x1="94.05" y1="175.00" x2="94.05" y2="181.00" stroke="#141a30" stroke-opacity="0.8" stroke-width="0.55"/>
<line x1="104.86" y1="175.00" x2="104.86" y2="181.00" stroke="#141a30" stroke-opacity="0.8" stroke-width="0.55"/>
<line x1="115.67" y1="175.00" x2="115.67" y2="181.00" stroke="#141a30" stroke-opacity="0.8" stroke-width="0.55"/>
<line x1="126.48" y1="175.00" x2="126.48" y2="181.00" stroke="#141a30" stroke-opacity="0.8" stroke-width="0.55"/>
<line x1="137.29" y1="175.00" x2="137.29" y2="181.00" stroke="#141a30" stroke-opacity="0.8" stroke-width="0.55"/>
<line x1="148.10" y1="175.00" x2="148.10" y2="181.00" stroke="#141a30" stroke-opacity="0.8" stroke-width="0.55"/>
<line x1="158.91" y1="175.00" x2="158.91" y2="181.00" stroke="#141a30" stroke-opacity="0.8" stroke-width="0.55"/>
<line x1="169.72" y1="175.00" x2="169.72" y2="181.00" stroke="#141a30" stroke-opacity="0.8" stroke-width="0.55"/>
<line x1="180.53" y1="175.00" x2="180.53" y2="181.00" stroke="#141a30" stroke-opacity="0.8" stroke-width="0.55"/>
<line x1="191.34" y1="175.00" x2="191.34" y2="181.00" stroke="#141a30" stroke-opacity="0.8" stroke-width="0.55"/>
<line x1="202.15" y1="175.00" x2="202.15" y2="181.00" stroke="#141a30" stroke-opacity="0.8" stroke-width="0.55"/>
<line x1="212.96" y1="175.00" x2="212.96" y2="181.00" stroke="#141a30" stroke-opacity="0.8" stroke-width="0.55"/>
<line x1="223.77" y1="175.00" x2="223.77" y2="181.00" stroke="#141a30" stroke-opacity="0.8" stroke-width="0.55"/>
<line x1="234.58" y1="175.00" x2="234.58" y2="181.00" stroke="#141a30" stroke-opacity="0.8" stroke-width="0.55"/>
<line x1="245.39" y1="175.00" x2="245.39" y2="181.00" stroke="#141a30" stroke-opacity="0.8" stroke-width="0.55"/>
<line x1="256.20" y1="175.00" x2="256.20" y2="181.00" stroke="#141a30" stroke-opacity="0.8" stroke-width="0.55"/>
<rect x="35.00" y="175.00" width="226.50" height="6.00" fill="none" stroke="#1a2038" stroke-opacity="0.7" stroke-width="0.55"/>
<text x="11.30" y="192.10" font-family="Liberation Sans, Arial, Helvetica, sans-serif" font-size="8.5" fill="#1c1c1c" stroke="#1c1c1c" stroke-width="0.2" textLength="21.30" lengthAdjust="spacingAndGlyphs">U (m/s)</text>
<text x="40.00" y="191.70" font-family="Liberation Sans, Arial, Helvetica, sans-serif" font-size="4.05" fill="#111" stroke="#111" stroke-width="0.12" text-anchor="middle" textLength="8.86" lengthAdjust="spacingAndGlyphs">-0.04</text>
<text x="50.81" y="191.70" font-family="Liberation Sans, Arial, Helvetica, sans-serif" font-size="4.05" fill="#111" stroke="#111" stroke-width="0.12" text-anchor="middle" textLength="8.86" lengthAdjust="spacingAndGlyphs">-0.02</text>
<text x="61.62" y="191.70" font-family="Liberation Sans, Arial, Helvetica, sans-serif" font-size="4.05" fill="#111" stroke="#111" stroke-width="0.12" text-anchor="middle" textLength="2.16" lengthAdjust="spacingAndGlyphs">0</text>
<text x="72.43" y="191.70" font-family="Liberation Sans, Arial, Helvetica, sans-serif" font-size="4.05" fill="#111" stroke="#111" stroke-width="0.12" text-anchor="middle" textLength="7.57" lengthAdjust="spacingAndGlyphs">0.02</text>
<text x="83.24" y="191.70" font-family="Liberation Sans, Arial, Helvetica, sans-serif" font-size="4.05" fill="#111" stroke="#111" stroke-width="0.12" text-anchor="middle" textLength="7.57" lengthAdjust="spacingAndGlyphs">0.04</text>
<text x="94.05" y="191.70" font-family="Liberation Sans, Arial, Helvetica, sans-serif" font-size="4.05" fill="#111" stroke="#111" stroke-width="0.12" text-anchor="middle" textLength="7.57" lengthAdjust="spacingAndGlyphs">0.06</text>
<text x="104.86" y="191.70" font-family="Liberation Sans, Arial, Helvetica, sans-serif" font-size="4.05" fill="#111" stroke="#111" stroke-width="0.12" text-anchor="middle" textLength="7.57" lengthAdjust="spacingAndGlyphs">0.08</text>
<text x="115.67" y="191.70" font-family="Liberation Sans, Arial, Helvetica, sans-serif" font-size="4.05" fill="#111" stroke="#111" stroke-width="0.12" text-anchor="middle" textLength="5.40" lengthAdjust="spacingAndGlyphs">0.1</text>
<text x="126.48" y="191.70" font-family="Liberation Sans, Arial, Helvetica, sans-serif" font-size="4.05" fill="#111" stroke="#111" stroke-width="0.12" text-anchor="middle" textLength="7.57" lengthAdjust="spacingAndGlyphs">0.12</text>
<text x="137.29" y="191.70" font-family="Liberation Sans, Arial, Helvetica, sans-serif" font-size="4.05" fill="#111" stroke="#111" stroke-width="0.12" text-anchor="middle" textLength="7.57" lengthAdjust="spacingAndGlyphs">0.14</text>
<text x="148.10" y="191.70" font-family="Liberation Sans, Arial, Helvetica, sans-serif" font-size="4.05" fill="#111" stroke="#111" stroke-width="0.12" text-anchor="middle" textLength="7.57" lengthAdjust="spacingAndGlyphs">0.16</text>
<text x="158.91" y="191.70" font-family="Liberation Sans, Arial, Helvetica, sans-serif" font-size="4.05" fill="#111" stroke="#111" stroke-width="0.12" text-anchor="middle" textLength="7.57" lengthAdjust="spacingAndGlyphs">0.18</text>
<text x="169.72" y="191.70" font-family="Liberation Sans, Arial, Helvetica, sans-serif" font-size="4.05" fill="#111" stroke="#111" stroke-width="0.12" text-anchor="middle" textLength="5.40" lengthAdjust="spacingAndGlyphs">0.2</text>
<text x="180.53" y="191.70" font-family="Liberation Sans, Arial, Helvetica, sans-serif" font-size="4.05" fill="#111" stroke="#111" stroke-width="0.12" text-anchor="middle" textLength="7.57" lengthAdjust="spacingAndGlyphs">0.22</text>
<text x="191.34" y="191.70" font-family="Liberation Sans, Arial, Helvetica, sans-serif" font-size="4.05" fill="#111" stroke="#111" stroke-width="0.12" text-anchor="middle" textLength="7.57" lengthAdjust="spacingAndGlyphs">0.24</text>
<text x="202.15" y="191.70" font-family="Liberation Sans, Arial, Helvetica, sans-serif" font-size="4.05" fill="#111" stroke="#111" stroke-width="0.12" text-anchor="middle" textLength="7.57" lengthAdjust="spacingAndGlyphs">0.26</text>
<text x="212.96" y="191.70" font-family="Liberation Sans, Arial, Helvetica, sans-serif" font-size="4.05" fill="#111" stroke="#111" stroke-width="0.12" text-anchor="middle" textLength="7.57" lengthAdjust="spacingAndGlyphs">0.28</text>
<text x="223.77" y="191.70" font-family="Liberation Sans, Arial, Helvetica, sans-serif" font-size="4.05" fill="#111" stroke="#111" stroke-width="0.12" text-anchor="middle" textLength="5.40" lengthAdjust="spacingAndGlyphs">0.3</text>
<text x="234.58" y="191.70" font-family="Liberation Sans, Arial, Helvetica, sans-serif" font-size="4.05" fill="#111" stroke="#111" stroke-width="0.12" text-anchor="middle" textLength="7.57" lengthAdjust="spacingAndGlyphs">0.32</text>
<text x="245.39" y="191.70" font-family="Liberation Sans, Arial, Helvetica, sans-serif" font-size="4.05" fill="#111" stroke="#111" stroke-width="0.12" text-anchor="middle" textLength="7.57" lengthAdjust="spacingAndGlyphs">0.34</text>
<text x="256.20" y="191.70" font-family="Liberation Sans, Arial, Helvetica, sans-serif" font-size="4.05" fill="#111" stroke="#111" stroke-width="0.12" text-anchor="middle" textLength="7.57" lengthAdjust="spacingAndGlyphs">0.36</text>
<line x1="31.20" y1="198.20" x2="31.20" y2="292.55" stroke="#0a0a0a" stroke-width="1.35"/>
<line x1="30.55" y1="291.90" x2="251.90" y2="291.90" stroke="#0a0a0a" stroke-width="1.3"/>
<line x1="31.20" y1="290.60" x2="36.00" y2="290.60" stroke="#0a0a0a" stroke-width="1.3"/>
<text x="26.90" y="293.80" font-family="Liberation Sans, Arial, Helvetica, sans-serif" font-size="9.0" fill="#111" text-anchor="end" textLength="8.9" lengthAdjust="spacingAndGlyphs">15</text>
<line x1="31.20" y1="286.93" x2="33.60" y2="286.93" stroke="#0a0a0a" stroke-width="0.45"/>
<line x1="31.20" y1="283.26" x2="33.60" y2="283.26" stroke="#0a0a0a" stroke-width="0.45"/>
<line x1="31.20" y1="279.60" x2="33.60" y2="279.60" stroke="#0a0a0a" stroke-width="0.45"/>
<line x1="31.20" y1="275.93" x2="33.60" y2="275.93" stroke="#0a0a0a" stroke-width="0.45"/>
<line x1="31.20" y1="272.26" x2="36.00" y2="272.26" stroke="#0a0a0a" stroke-width="1.3"/>
<text x="26.90" y="275.46" font-family="Liberation Sans, Arial, Helvetica, sans-serif" font-size="9.0" fill="#111" text-anchor="end" textLength="8.9" lengthAdjust="spacingAndGlyphs">20</text>
<line x1="31.20" y1="268.59" x2="33.60" y2="268.59" stroke="#0a0a0a" stroke-width="0.45"/>
<line x1="31.20" y1="264.92" x2="33.60" y2="264.92" stroke="#0a0a0a" stroke-width="0.45"/>
<line x1="31.20" y1="261.26" x2="33.60" y2="261.26" stroke="#0a0a0a" stroke-width="0.45"/>
<line x1="31.20" y1="257.59" x2="33.60" y2="257.59" stroke="#0a0a0a" stroke-width="0.45"/>
<line x1="31.20" y1="253.92" x2="36.00" y2="253.92" stroke="#0a0a0a" stroke-width="1.3"/>
<text x="26.90" y="257.12" font-family="Liberation Sans, Arial, Helvetica, sans-serif" font-size="9.0" fill="#111" text-anchor="end" textLength="8.9" lengthAdjust="spacingAndGlyphs">25</text>
<line x1="31.20" y1="250.25" x2="33.60" y2="250.25" stroke="#0a0a0a" stroke-width="0.45"/>
<line x1="31.20" y1="246.58" x2="33.60" y2="246.58" stroke="#0a0a0a" stroke-width="0.45"/>
<line x1="31.20" y1="242.92" x2="33.60" y2="242.92" stroke="#0a0a0a" stroke-width="0.45"/>
<line x1="31.20" y1="239.25" x2="33.60" y2="239.25" stroke="#0a0a0a" stroke-width="0.45"/>
<line x1="31.20" y1="235.58" x2="36.00" y2="235.58" stroke="#0a0a0a" stroke-width="1.3"/>
<text x="26.90" y="238.78" font-family="Liberation Sans, Arial, Helvetica, sans-serif" font-size="9.0" fill="#111" text-anchor="end" textLength="8.9" lengthAdjust="spacingAndGlyphs">30</text>
<line x1="31.20" y1="231.91" x2="33.60" y2="231.91" stroke="#0a0a0a" stroke-width="0.45"/>
<line x1="31.20" y1="228.24" x2="33.60" y2="228.24" stroke="#0a0a0a" stroke-width="0.45"/>
<line x1="31.20" y1="224.58" x2="33.60" y2="224.58" stroke="#0a0a0a" stroke-width="0.45"/>
<line x1="31.20" y1="220.91" x2="33.60" y2="220.91" stroke="#0a0a0a" stroke-width="0.45"/>
<line x1="31.20" y1="217.24" x2="36.00" y2="217.24" stroke="#0a0a0a" stroke-width="1.3"/>
<text x="26.90" y="220.44" font-family="Liberation Sans, Arial, Helvetica, sans-serif" font-size="9.0" fill="#111" text-anchor="end" textLength="8.9" lengthAdjust="spacingAndGlyphs">35</text>
<line x1="31.20" y1="213.57" x2="33.60" y2="213.57" stroke="#0a0a0a" stroke-width="0.45"/>
<line x1="31.20" y1="209.90" x2="33.60" y2="209.90" stroke="#0a0a0a" stroke-width="0.45"/>
<line x1="31.20" y1="206.24" x2="33.60" y2="206.24" stroke="#0a0a0a" stroke-width="0.45"/>
<line x1="31.20" y1="202.57" x2="33.60" y2="202.57" stroke="#0a0a0a" stroke-width="0.45"/>
<line x1="31.20" y1="198.90" x2="36.00" y2="198.90" stroke="#0a0a0a" stroke-width="1.3"/>
<text x="26.90" y="202.10" font-family="Liberation Sans, Arial, Helvetica, sans-serif" font-size="9.0" fill="#111" text-anchor="end" textLength="8.9" lengthAdjust="spacingAndGlyphs">40</text>
<line x1="42.05" y1="291.90" x2="42.05" y2="289.30" stroke="#0a0a0a" stroke-width="0.45"/>
<line x1="54.50" y1="291.90" x2="54.50" y2="289.30" stroke="#0a0a0a" stroke-width="0.45"/>
<line x1="66.95" y1="291.90" x2="66.95" y2="289.30" stroke="#0a0a0a" stroke-width="0.45"/>
<line x1="79.40" y1="291.90" x2="79.40" y2="286.70" stroke="#0a0a0a" stroke-width="1.3"/>
<text x="79.40" y="301.80" font-family="Liberation Sans, Arial, Helvetica, sans-serif" font-size="8.9" fill="#111" text-anchor="middle" textLength="9.2" lengthAdjust="spacingAndGlyphs">20</text>
<line x1="91.85" y1="291.90" x2="91.85" y2="289.30" stroke="#0a0a0a" stroke-width="0.45"/>
<line x1="104.30" y1="291.90" x2="104.30" y2="289.30" stroke="#0a0a0a" stroke-width="0.45"/>
<line x1="116.75" y1="291.90" x2="116.75" y2="289.30" stroke="#0a0a0a" stroke-width="0.45"/>
<line x1="129.20" y1="291.90" x2="129.20" y2="286.70" stroke="#0a0a0a" stroke-width="1.3"/>
<text x="129.20" y="301.80" font-family="Liberation Sans, Arial, Helvetica, sans-serif" font-size="8.9" fill="#111" text-anchor="middle" textLength="9.2" lengthAdjust="spacingAndGlyphs">40</text>
<line x1="141.65" y1="291.90" x2="141.65" y2="289.30" stroke="#0a0a0a" stroke-width="0.45"/>
<line x1="154.10" y1="291.90" x2="154.10" y2="289.30" stroke="#0a0a0a" stroke-width="0.45"/>
<line x1="166.55" y1="291.90" x2="166.55" y2="289.30" stroke="#0a0a0a" stroke-width="0.45"/>
<line x1="179.00" y1="291.90" x2="179.00" y2="286.70" stroke="#0a0a0a" stroke-width="1.3"/>
<text x="179.00" y="301.80" font-family="Liberation Sans, Arial, Helvetica, sans-serif" font-size="8.9" fill="#111" text-anchor="middle" textLength="9.2" lengthAdjust="spacingAndGlyphs">60</text>
<line x1="191.45" y1="291.90" x2="191.45" y2="289.30" stroke="#0a0a0a" stroke-width="0.45"/>
<line x1="203.90" y1="291.90" x2="203.90" y2="289.30" stroke="#0a0a0a" stroke-width="0.45"/>
<line x1="216.35" y1="291.90" x2="216.35" y2="289.30" stroke="#0a0a0a" stroke-width="0.45"/>
<line x1="228.80" y1="291.90" x2="228.80" y2="286.70" stroke="#0a0a0a" stroke-width="1.3"/>
<text x="228.80" y="301.80" font-family="Liberation Sans, Arial, Helvetica, sans-serif" font-size="8.9" fill="#111" text-anchor="middle" textLength="9.2" lengthAdjust="spacingAndGlyphs">80</text>
<line x1="241.25" y1="291.90" x2="241.25" y2="289.30" stroke="#0a0a0a" stroke-width="0.45"/>
<text x="141.55" y="313.20" font-family="Liberation Sans, Arial, Helvetica, sans-serif" font-size="11" font-weight="bold" fill="#0a0a0a" text-anchor="middle" textLength="32.4" lengthAdjust="spacingAndGlyphs">X (mm)</text>
<text transform="translate(13.40 245.35) rotate(-90)" font-family="Liberation Sans, Arial, Helvetica, sans-serif" font-size="10.6" font-weight="bold" fill="#0a0a0a" text-anchor="middle" textLength="37" lengthAdjust="spacingAndGlyphs">Y (mm)</text>
<text x="136.00" y="332.20" font-family="Liberation Serif, DejaVu Serif, serif" font-size="15.8" fill="#1a1a1a" text-anchor="middle">0.375 s</text>
</g>
<g id="plot4">
<g clip-path="url(#cp4)">
<g filter="url(#band4)">
<path d="M304.0 213.0 L552.0 213.0 L552.0 299.0 L304.0 299.0Z" fill="#141414"/>
<path d="M318.0 231.0 L319.5 227.5 L323.5 226.5 L327.5 227.7 L329.0 231.0Z" fill="#222222"/>
<path d="M343.0 230.0 L344.5 226.5 L349.5 225.5 L354.5 226.7 L356.0 230.0Z" fill="#222222"/>
<path d="M364.0 229.5 L365.5 225.5 L371.5 224.5 L377.5 225.7 L379.0 229.5Z" fill="#222222"/>
<path d="M394.0 231.0 L395.5 227.0 L400.0 226.0 L404.5 227.2 L406.0 231.0Z" fill="#222222"/>
<path d="M418.0 231.5 L419.5 227.5 L424.5 226.5 L429.5 227.7 L431.0 231.5Z" fill="#222222"/>
<path d="M316.0 225.0 L317.5 223.0 L320.0 222.0 L322.5 223.2 L324.0 225.0Z" fill="#222222"/>
<path d="M350.0 224.5 L351.5 223.0 L355.0 222.0 L358.5 223.2 L360.0 224.5Z" fill="#222222"/>
<path d="M385.0 226.0 L386.5 223.5 L388.5 222.5 L390.5 223.7 L392.0 226.0Z" fill="#222222"/>
<path d="M408.0 225.5 L409.5 223.0 L412.0 222.0 L414.5 223.2 L416.0 225.5Z" fill="#222222"/>
<path d="M432.0 227.0 L433.5 224.0 L436.0 223.0 L438.5 224.2 L440.0 227.0Z" fill="#222222"/>
<path d="M470.0 213.0 L490.0 213.0 L488.0 229.0 L480.0 228.0 L472.0 228.5Z" fill="#222222"/>
<path d="M489.0 225.0 L496.0 224.5 L504.0 225.5 L512.0 225.0 L520.5 225.5 L520.0 233.5 L510.0 232.0 L500.0 232.5 L492.0 232.0 L488.5 230.0Z" fill="#575757"/>
<path d="M488.0 213.0 L521.0 213.0 L521.0 225.0 L512.0 224.6 L504.0 225.2 L496.0 224.3 L489.0 224.8Z" fill="#2f2f2f"/>
<path d="M440.0 213.0 L470.0 213.0 L470.0 228.0 L456.0 226.5 L444.0 229.0Z" fill="#222222"/>
<path d="M304.0 233.3 L320.0 233.1 L326.0 233.6 L331.0 232.6 L335.0 231.1 L339.0 232.1 L345.0 232.1 L352.0 232.6 L357.0 230.6 L362.0 230.1 L368.0 230.3 L373.0 231.1 L378.0 232.1 L382.0 232.6 L385.0 232.2 L390.0 231.6 L395.0 231.2 L400.0 232.1 L406.0 233.3 L411.0 232.1 L416.0 231.2 L421.0 232.1 L427.0 233.3 L432.0 233.6 L437.0 234.3 L441.0 232.6 L444.0 231.2 L448.0 230.8 L453.0 231.2 L457.0 231.2 L461.0 231.0 L465.0 231.0 L470.0 231.8 L474.0 232.2 L480.0 230.1 L486.0 230.6 L492.0 233.3 L498.0 233.1 L504.0 233.3 L510.0 232.6 L515.0 233.3 L519.0 234.3 L522.0 236.6 L527.0 240.1 L532.0 240.8 L538.0 240.6 L552.0 240.6 L552.0 299.0 L304.0 299.0Z" fill="#4a4a4a"/>
<path d="M304.0 233.8 L320.0 233.6 L326.0 234.1 L331.0 233.1 L335.0 231.6 L339.0 232.6 L345.0 232.6 L352.0 233.1 L357.0 231.1 L362.0 230.6 L368.0 230.8 L373.0 231.6 L378.0 232.6 L382.0 233.1 L385.0 232.7 L390.0 232.1 L395.0 231.7 L400.0 232.6 L406.0 233.8 L411.0 232.6 L416.0 231.7 L421.0 232.6 L427.0 233.8 L432.0 234.1 L437.0 234.8 L441.0 233.1 L444.0 231.7 L448.0 231.3 L453.0 231.7 L457.0 231.7 L461.0 231.5 L465.0 231.5 L470.0 232.3 L474.0 232.7 L480.0 230.6 L486.0 231.1 L492.0 233.8 L498.0 233.6 L504.0 233.8 L510.0 233.1 L515.0 233.8 L519.0 234.8 L522.0 237.1 L527.0 240.6 L532.0 241.3 L538.0 241.1 L552.0 241.1 L552.0 299.0 L304.0 299.0Z" fill="#727272"/>
<path d="M304.0 234.3 L320.0 234.1 L326.0 234.6 L331.0 233.6 L335.0 232.1 L339.0 233.1 L345.0 233.1 L352.0 233.6 L357.0 231.6 L362.0 231.1 L368.0 231.3 L373.0 232.1 L378.0 233.1 L382.0 233.6 L385.0 233.2 L390.0 232.6 L395.0 232.2 L400.0 233.1 L406.0 234.3 L411.0 233.1 L416.0 232.2 L421.0 233.1 L427.0 234.3 L432.0 234.6 L437.0 235.3 L441.0 233.6 L444.0 232.2 L448.0 231.8 L453.0 232.2 L457.0 232.2 L461.0 232.0 L465.0 232.0 L470.0 232.8 L474.0 233.2 L480.0 231.1 L486.0 231.6 L492.0 234.3 L498.0 234.1 L504.0 234.3 L510.0 233.6 L515.0 234.3 L519.0 235.3 L522.0 237.6 L527.0 241.1 L532.0 241.8 L538.0 241.6 L552.0 241.6 L552.0 299.0 L450.0 299.0 L440.0 292.0 L430.0 290.0 L410.0 289.0 L390.0 288.5 L370.0 288.0 L350.0 288.0 L330.0 287.5 L304.0 287.5Z" fill="#808080"/>
<path d="M304.0 235.0 L320.0 234.8 L326.0 235.3 L331.0 234.3 L335.0 232.8 L339.0 233.8 L345.0 233.8 L352.0 234.3 L357.0 232.3 L362.0 231.8 L368.0 232.0 L373.0 232.8 L378.0 233.8 L382.0 234.3 L385.0 233.9 L390.0 233.3 L395.0 232.9 L400.0 233.8 L406.0 235.0 L411.0 233.8 L416.0 232.9 L421.0 233.8 L427.0 235.0 L432.0 235.3 L437.0 236.0 L441.0 234.3 L444.0 232.9 L448.0 232.5 L453.0 232.9 L457.0 232.9 L461.0 232.7 L465.0 232.7 L470.0 233.5 L474.0 233.9 L480.0 231.8 L486.0 232.3 L492.0 235.0 L498.0 234.8 L504.0 235.0 L510.0 234.3 L515.0 235.0 L519.0 236.0 L522.0 238.3 L527.0 241.8 L532.0 242.5 L538.0 242.3 L552.0 242.3 L552.0 283.3 L536.0 284.1 L528.0 285.0 L520.0 283.9 L512.0 285.8 L504.0 284.7 L496.0 286.6 L488.0 284.5 L480.0 282.3 L472.0 284.2 L464.0 282.1 L456.0 280.0 L448.0 276.6 L440.0 277.0 L432.0 275.0 L424.0 272.0 L416.0 269.0 L408.0 267.0 L400.0 269.0 L392.0 272.0 L384.0 274.8 L376.0 274.0 L368.0 272.0 L360.0 274.0 L352.0 276.0 L344.0 278.0 L336.0 277.0 L328.0 275.0 L320.0 273.5 L304.0 273.0Z" fill="#8d8d8d"/>
<path d="M304.0 235.9 L320.0 235.7 L326.0 236.2 L331.0 235.2 L335.0 233.7 L339.0 234.7 L345.0 234.7 L352.0 235.2 L357.0 233.2 L362.0 232.7 L368.0 232.9 L373.0 233.7 L378.0 234.7 L382.0 235.2 L385.0 234.8 L390.0 234.2 L395.0 233.8 L400.0 234.7 L406.0 235.9 L411.0 234.7 L416.0 233.8 L421.0 234.7 L427.0 235.9 L432.0 236.2 L437.0 236.9 L441.0 235.2 L444.0 233.8 L448.0 233.4 L453.0 233.8 L457.0 233.8 L461.0 233.6 L465.0 233.6 L470.0 234.4 L474.0 234.8 L480.0 232.7 L486.0 233.2 L492.0 235.9 L498.0 235.7 L504.0 235.9 L510.0 235.2 L515.0 235.9 L519.0 236.9 L522.0 239.2 L527.0 242.7 L532.0 243.4 L538.0 243.2 L552.0 243.2 L552.0 271.0 L540.0 272.0 L532.0 274.0 L524.0 275.0 L516.0 277.0 L508.0 276.0 L500.0 278.0 L492.0 276.0 L484.0 274.0 L476.0 276.0 L468.0 273.5 L460.0 269.3 L452.0 266.0 L444.0 268.0 L436.0 266.0 L428.0 263.0 L420.0 260.0 L412.0 258.0 L404.0 260.0 L396.0 262.0 L388.0 260.0 L380.0 258.0 L372.0 257.0 L364.0 255.0 L358.0 254.0 L352.0 256.0 L344.0 258.0 L336.0 259.0 L328.0 258.5 L320.0 257.5 L304.0 257.0Z" fill="#9a9a9a"/>
<path d="M381.0 236.0 L388.0 236.5 L396.0 236.0 L404.0 237.0 L412.0 236.5 L420.0 237.0 L424.0 242.0 L426.0 250.0 L424.0 258.0 L418.0 262.0 L408.0 263.0 L398.0 264.0 L388.0 262.0 L383.0 256.0 L380.0 248.0 L379.0 241.0Z" fill="#8d8d8d"/>
<path d="M371.0 263.0 L378.0 262.0 L381.0 268.0 L380.0 274.0 L375.0 275.0 L371.0 270.0Z" fill="#9a9a9a"/>
<path d="M304.0 239.2 L320.0 238.7 L326.0 239.2 L331.0 238.2 L335.0 235.7 L339.0 236.7 L345.0 236.2 L352.0 236.7 L357.0 234.7 L362.0 234.2 L368.0 234.2 L373.0 235.2 L378.0 237.2 L381.0 244.2 L383.0 252.2 L386.0 260.2 L400.0 261.2 L430.0 259.2 L436.0 252.2 L440.0 244.2 L443.0 239.2 L445.0 236.8 L448.0 233.2 L453.0 232.8 L457.0 232.6 L461.0 232.2 L465.0 232.2 L470.0 234.2 L474.0 234.8 L480.0 233.7 L486.0 234.2 L492.0 236.9 L498.0 236.7 L504.0 236.9 L510.0 236.2 L515.0 236.9 L519.0 237.9 L522.0 240.2 L527.0 243.7 L532.0 244.4 L538.0 244.2 L552.0 244.2 L552.0 262.0 L540.0 263.0 L532.0 266.0 L524.0 268.0 L516.0 270.0 L508.0 270.0 L500.0 272.0 L492.0 270.0 L484.0 268.0 L476.0 270.0 L468.0 267.5 L460.0 263.3 L452.0 260.0 L444.0 261.0 L436.0 259.0 L428.0 256.0 L420.0 252.0 L412.0 250.0 L404.0 252.0 L396.0 256.0 L388.0 257.0 L380.0 255.0 L372.0 253.0 L364.0 251.0 L358.0 249.0 L352.0 250.0 L344.0 252.0 L336.0 254.0 L328.0 255.0 L320.0 256.0 L304.0 256.0Z" fill="#a8a8a8"/>
<path d="M315.0 243.0 L322.0 241.5 L328.0 243.0 L330.0 247.0 L326.0 250.0 L318.0 250.0 L314.0 247.0Z" fill="#b5b5b5"/>
<path d="M332.0 236.0 L340.0 235.5 L348.0 235.0 L356.0 234.0 L364.0 233.5 L370.0 235.0 L366.0 240.0 L360.0 244.0 L352.0 246.0 L344.0 245.0 L338.0 242.0 L333.0 240.0Z" fill="#b5b5b5"/>
<path d="M450.0 238.0 L453.0 235.0 L456.0 234.0 L465.0 232.5 L472.0 234.5 L482.0 233.5 L492.0 236.0 L504.0 236.0 L514.0 236.0 L520.0 238.0 L524.0 242.0 L532.0 244.0 L552.0 244.0 L552.0 255.0 L536.0 257.0 L528.0 259.0 L520.0 261.0 L512.0 262.0 L504.0 263.0 L496.0 265.0 L488.0 263.0 L480.0 261.0 L472.0 262.0 L464.0 260.0 L456.0 259.0 L452.0 253.0 L450.0 243.0Z" fill="#b5b5b5"/>
<path d="M463.0 237.0 L467.0 235.0 L472.0 235.5 L482.0 234.5 L492.0 237.0 L504.0 237.0 L514.0 237.5 L520.0 240.0 L524.0 243.0 L530.0 245.0 L538.0 245.0 L552.0 245.0 L552.0 254.0 L536.0 255.0 L528.0 255.0 L518.0 254.0 L508.0 254.0 L500.0 256.0 L492.0 257.0 L484.0 255.0 L476.0 254.0 L470.0 254.0 L465.0 251.0 L462.0 243.0Z" fill="#c3c3c3"/>
<path d="M472.0 237.5 L476.0 236.5 L482.0 236.0 L490.0 238.0 L500.0 238.5 L508.0 240.0 L514.0 243.0 L522.0 246.0 L532.0 247.0 L552.0 247.0 L552.0 249.5 L530.0 250.0 L520.0 249.5 L510.0 247.5 L502.0 247.0 L494.0 247.0 L486.0 246.0 L479.0 245.0 L474.0 243.0 L471.0 240.0Z" fill="#d0d0d0"/>
</g>
<g filter="url(#soft2)">
<path d="M344.9 285.3 L344.4 286.9 L343.2 287.6 L342.0 286.9 L341.5 285.3 L342.0 283.7 L343.2 283.0 L344.4 283.7Z" fill="#482878"/>
<path d="M487.0 232.6 L492.0 232.2 L498.0 233.6 L497.0 234.8 L491.0 234.4 L487.0 234.0Z" fill="#dae319"/>
</g>
</g>
<rect x="312.00" y="172.30" width="209.30" height="20.00" fill="#fff" stroke="#8a8a8a" stroke-width="0.7"/>
<rect x="342.00" y="174.80" width="5.30" height="5.80" fill="#440154"/>
<rect x="347.00" y="174.80" width="9.98" height="5.80" fill="#481668"/>
<rect x="356.68" y="174.80" width="9.98" height="5.80" fill="#482878"/>
<rect x="366.36" y="174.80" width="9.98" height="5.80" fill="#443983"/>
<rect x="376.04" y="174.80" width="9.98" height="5.80" fill="#3e4989"/>
<rect x="385.72" y="174.80" width="9.98" height="5.80" fill="#375a8c"/>
<rect x="395.40" y="174.80" width="9.98" height="5.80" fill="#31688e"/>
<rect x="405.08" y="174.80" width="9.98" height="5.80" fill="#2b758e"/>
<rect x="414.76" y="174.80" width="9.98" height="5.80" fill="#26828e"/>
<rect x="424.44" y="174.80" width="9.98" height="5.80" fill="#21918c"/>
<rect x="434.12" y="174.80" width="9.98" height="5.80" fill="#1f9e89"/>
<rect x="443.80" y="174.80" width="9.98" height="5.80" fill="#25ab82"/>
<rect x="453.48" y="174.80" width="9.98" height="5.80" fill="#35b779"/>
<rect x="463.16" y="174.80" width="9.98" height="5.80" fill="#4ec36b"/>
<rect x="472.84" y="174.80" width="9.98" height="5.80" fill="#6ece58"/>
<rect x="482.52" y="174.80" width="9.98" height="5.80" fill="#90d743"/>
<rect x="492.20" y="174.80" width="9.98" height="5.80" fill="#b5de2b"/>
<rect x="501.88" y="174.80" width="9.98" height="5.80" fill="#dae319"/>
<rect x="511.56" y="174.80" width="5.04" height="5.80" fill="#fde725"/>
<line x1="347.00" y1="174.80" x2="347.00" y2="180.60" stroke="#141a30" stroke-opacity="0.8" stroke-width="0.55"/>
<line x1="356.68" y1="174.80" x2="356.68" y2="180.60" stroke="#141a30" stroke-opacity="0.8" stroke-width="0.55"/>
<line x1="366.36" y1="174.80" x2="366.36" y2="180.60" stroke="#141a30" stroke-opacity="0.8" stroke-width="0.55"/>
<line x1="376.04" y1="174.80" x2="376.04" y2="180.60" stroke="#141a30" stroke-opacity="0.8" stroke-width="0.55"/>
<line x1="385.72" y1="174.80" x2="385.72" y2="180.60" stroke="#141a30" stroke-opacity="0.8" stroke-width="0.55"/>
<line x1="395.40" y1="174.80" x2="395.40" y2="180.60" stroke="#141a30" stroke-opacity="0.8" stroke-width="0.55"/>
<line x1="405.08" y1="174.80" x2="405.08" y2="180.60" stroke="#141a30" stroke-opacity="0.8" stroke-width="0.55"/>
<line x1="414.76" y1="174.80" x2="414.76" y2="180.60" stroke="#141a30" stroke-opacity="0.8" stroke-width="0.55"/>
<line x1="424.44" y1="174.80" x2="424.44" y2="180.60" stroke="#141a30" stroke-opacity="0.8" stroke-width="0.55"/>
<line x1="434.12" y1="174.80" x2="434.12" y2="180.60" stroke="#141a30" stroke-opacity="0.8" stroke-width="0.55"/>
<line x1="443.80" y1="174.80" x2="443.80" y2="180.60" stroke="#141a30" stroke-opacity="0.8" stroke-width="0.55"/>
<line x1="453.48" y1="174.80" x2="453.48" y2="180.60" stroke="#141a30" stroke-opacity="0.8" stroke-width="0.55"/>
<line x1="463.16" y1="174.80" x2="463.16" y2="180.60" stroke="#141a30" stroke-opacity="0.8" stroke-width="0.55"/>
<line x1="472.84" y1="174.80" x2="472.84" y2="180.60" stroke="#141a30" stroke-opacity="0.8" stroke-width="0.55"/>
<line x1="482.52" y1="174.80" x2="482.52" y2="180.60" stroke="#141a30" stroke-opacity="0.8" stroke-width="0.55"/>
<line x1="492.20" y1="174.80" x2="492.20" y2="180.60" stroke="#141a30" stroke-opacity="0.8" stroke-width="0.55"/>
<line x1="501.88" y1="174.80" x2="501.88" y2="180.60" stroke="#141a30" stroke-opacity="0.8" stroke-width="0.55"/>
<line x1="511.56" y1="174.80" x2="511.56" y2="180.60" stroke="#141a30" stroke-opacity="0.8" stroke-width="0.55"/>
<rect x="342.00" y="174.80" width="174.30" height="5.80" fill="none" stroke="#1a2038" stroke-opacity="0.7" stroke-width="0.55"/>
<text x="317.50" y="190.50" font-family="Liberation Sans, Arial, Helvetica, sans-serif" font-size="8.5" fill="#1c1c1c" stroke="#1c1c1c" stroke-width="0.2" textLength="22.50" lengthAdjust="spacingAndGlyphs">U (m/s)</text>
<text x="347.00" y="190.60" font-family="Liberation Sans, Arial, Helvetica, sans-serif" font-size="4.25" fill="#111" stroke="#111" stroke-width="0.12" text-anchor="middle" textLength="2.27" lengthAdjust="spacingAndGlyphs">0</text>
<text x="356.68" y="190.60" font-family="Liberation Sans, Arial, Helvetica, sans-serif" font-size="4.25" fill="#111" stroke="#111" stroke-width="0.12" text-anchor="middle" textLength="7.94" lengthAdjust="spacingAndGlyphs">0.02</text>
<text x="366.36" y="190.60" font-family="Liberation Sans, Arial, Helvetica, sans-serif" font-size="4.25" fill="#111" stroke="#111" stroke-width="0.12" text-anchor="middle" textLength="7.94" lengthAdjust="spacingAndGlyphs">0.04</text>
<text x="376.04" y="190.60" font-family="Liberation Sans, Arial, Helvetica, sans-serif" font-size="4.25" fill="#111" stroke="#111" stroke-width="0.12" text-anchor="middle" textLength="7.94" lengthAdjust="spacingAndGlyphs">0.06</text>
<text x="385.72" y="190.60" font-family="Liberation Sans, Arial, Helvetica, sans-serif" font-size="4.25" fill="#111" stroke="#111" stroke-width="0.12" text-anchor="middle" textLength="7.94" lengthAdjust="spacingAndGlyphs">0.08</text>
<text x="395.40" y="190.60" font-family="Liberation Sans, Arial, Helvetica, sans-serif" font-size="4.25" fill="#111" stroke="#111" stroke-width="0.12" text-anchor="middle" textLength="5.67" lengthAdjust="spacingAndGlyphs">0.1</text>
<text x="405.08" y="190.60" font-family="Liberation Sans, Arial, Helvetica, sans-serif" font-size="4.25" fill="#111" stroke="#111" stroke-width="0.12" text-anchor="middle" textLength="7.94" lengthAdjust="spacingAndGlyphs">0.12</text>
<text x="414.76" y="190.60" font-family="Liberation Sans, Arial, Helvetica, sans-serif" font-size="4.25" fill="#111" stroke="#111" stroke-width="0.12" text-anchor="middle" textLength="7.94" lengthAdjust="spacingAndGlyphs">0.14</text>
<text x="424.44" y="190.60" font-family="Liberation Sans, Arial, Helvetica, sans-serif" font-size="4.25" fill="#111" stroke="#111" stroke-width="0.12" text-anchor="middle" textLength="7.94" lengthAdjust="spacingAndGlyphs">0.16</text>
<text x="434.12" y="190.60" font-family="Liberation Sans, Arial, Helvetica, sans-serif" font-size="4.25" fill="#111" stroke="#111" stroke-width="0.12" text-anchor="middle" textLength="7.94" lengthAdjust="spacingAndGlyphs">0.18</text>
<text x="443.80" y="190.60" font-family="Liberation Sans, Arial, Helvetica, sans-serif" font-size="4.25" fill="#111" stroke="#111" stroke-width="0.12" text-anchor="middle" textLength="5.67" lengthAdjust="spacingAndGlyphs">0.2</text>
<text x="453.48" y="190.60" font-family="Liberation Sans, Arial, Helvetica, sans-serif" font-size="4.25" fill="#111" stroke="#111" stroke-width="0.12" text-anchor="middle" textLength="7.94" lengthAdjust="spacingAndGlyphs">0.22</text>
<text x="463.16" y="190.60" font-family="Liberation Sans, Arial, Helvetica, sans-serif" font-size="4.25" fill="#111" stroke="#111" stroke-width="0.12" text-anchor="middle" textLength="7.94" lengthAdjust="spacingAndGlyphs">0.24</text>
<text x="472.84" y="190.60" font-family="Liberation Sans, Arial, Helvetica, sans-serif" font-size="4.25" fill="#111" stroke="#111" stroke-width="0.12" text-anchor="middle" textLength="7.94" lengthAdjust="spacingAndGlyphs">0.26</text>
<text x="482.52" y="190.60" font-family="Liberation Sans, Arial, Helvetica, sans-serif" font-size="4.25" fill="#111" stroke="#111" stroke-width="0.12" text-anchor="middle" textLength="7.94" lengthAdjust="spacingAndGlyphs">0.28</text>
<text x="492.20" y="190.60" font-family="Liberation Sans, Arial, Helvetica, sans-serif" font-size="4.25" fill="#111" stroke="#111" stroke-width="0.12" text-anchor="middle" textLength="5.67" lengthAdjust="spacingAndGlyphs">0.3</text>
<text x="501.88" y="190.60" font-family="Liberation Sans, Arial, Helvetica, sans-serif" font-size="4.25" fill="#111" stroke="#111" stroke-width="0.12" text-anchor="middle" textLength="7.94" lengthAdjust="spacingAndGlyphs">0.32</text>
<text x="511.56" y="190.60" font-family="Liberation Sans, Arial, Helvetica, sans-serif" font-size="4.25" fill="#111" stroke="#111" stroke-width="0.12" text-anchor="middle" textLength="7.94" lengthAdjust="spacingAndGlyphs">0.34</text>
<line x1="313.10" y1="198.70" x2="313.10" y2="291.65" stroke="#0a0a0a" stroke-width="1.35"/>
<line x1="312.45" y1="291.00" x2="543.90" y2="291.00" stroke="#0a0a0a" stroke-width="1.3"/>
<line x1="313.10" y1="289.40" x2="317.90" y2="289.40" stroke="#0a0a0a" stroke-width="1.3"/>
<text x="308.80" y="292.60" font-family="Liberation Sans, Arial, Helvetica, sans-serif" font-size="9.0" fill="#111" text-anchor="end" textLength="8.9" lengthAdjust="spacingAndGlyphs">15</text>
<line x1="313.10" y1="285.80" x2="315.50" y2="285.80" stroke="#0a0a0a" stroke-width="0.45"/>
<line x1="313.10" y1="282.20" x2="315.50" y2="282.20" stroke="#0a0a0a" stroke-width="0.45"/>
<line x1="313.10" y1="278.60" x2="315.50" y2="278.60" stroke="#0a0a0a" stroke-width="0.45"/>
<line x1="313.10" y1="275.00" x2="315.50" y2="275.00" stroke="#0a0a0a" stroke-width="0.45"/>
<line x1="313.10" y1="271.40" x2="317.90" y2="271.40" stroke="#0a0a0a" stroke-width="1.3"/>
<text x="308.80" y="274.60" font-family="Liberation Sans, Arial, Helvetica, sans-serif" font-size="9.0" fill="#111" text-anchor="end" textLength="8.9" lengthAdjust="spacingAndGlyphs">20</text>
<line x1="313.10" y1="267.80" x2="315.50" y2="267.80" stroke="#0a0a0a" stroke-width="0.45"/>
<line x1="313.10" y1="264.20" x2="315.50" y2="264.20" stroke="#0a0a0a" stroke-width="0.45"/>
<line x1="313.10" y1="260.60" x2="315.50" y2="260.60" stroke="#0a0a0a" stroke-width="0.45"/>
<line x1="313.10" y1="257.00" x2="315.50" y2="257.00" stroke="#0a0a0a" stroke-width="0.45"/>
<line x1="313.10" y1="253.40" x2="317.90" y2="253.40" stroke="#0a0a0a" stroke-width="1.3"/>
<text x="308.80" y="256.60" font-family="Liberation Sans, Arial, Helvetica, sans-serif" font-size="9.0" fill="#111" text-anchor="end" textLength="8.9" lengthAdjust="spacingAndGlyphs">25</text>
<line x1="313.10" y1="249.80" x2="315.50" y2="249.80" stroke="#0a0a0a" stroke-width="0.45"/>
<line x1="313.10" y1="246.20" x2="315.50" y2="246.20" stroke="#0a0a0a" stroke-width="0.45"/>
<line x1="313.10" y1="242.60" x2="315.50" y2="242.60" stroke="#0a0a0a" stroke-width="0.45"/>
<line x1="313.10" y1="239.00" x2="315.50" y2="239.00" stroke="#0a0a0a" stroke-width="0.45"/>
<line x1="313.10" y1="235.40" x2="317.90" y2="235.40" stroke="#0a0a0a" stroke-width="1.3"/>
<text x="308.80" y="238.60" font-family="Liberation Sans, Arial, Helvetica, sans-serif" font-size="9.0" fill="#111" text-anchor="end" textLength="8.9" lengthAdjust="spacingAndGlyphs">30</text>
<line x1="313.10" y1="231.80" x2="315.50" y2="231.80" stroke="#0a0a0a" stroke-width="0.45"/>
<line x1="313.10" y1="228.20" x2="315.50" y2="228.20" stroke="#0a0a0a" stroke-width="0.45"/>
<line x1="313.10" y1="224.60" x2="315.50" y2="224.60" stroke="#0a0a0a" stroke-width="0.45"/>
<line x1="313.10" y1="221.00" x2="315.50" y2="221.00" stroke="#0a0a0a" stroke-width="0.45"/>
<line x1="313.10" y1="217.40" x2="317.90" y2="217.40" stroke="#0a0a0a" stroke-width="1.3"/>
<text x="308.80" y="220.60" font-family="Liberation Sans, Arial, Helvetica, sans-serif" font-size="9.0" fill="#111" text-anchor="end" textLength="8.9" lengthAdjust="spacingAndGlyphs">35</text>
<line x1="313.10" y1="213.80" x2="315.50" y2="213.80" stroke="#0a0a0a" stroke-width="0.45"/>
<line x1="313.10" y1="210.20" x2="315.50" y2="210.20" stroke="#0a0a0a" stroke-width="0.45"/>
<line x1="313.10" y1="206.60" x2="315.50" y2="206.60" stroke="#0a0a0a" stroke-width="0.45"/>
<line x1="313.10" y1="203.00" x2="315.50" y2="203.00" stroke="#0a0a0a" stroke-width="0.45"/>
<line x1="313.10" y1="199.40" x2="317.90" y2="199.40" stroke="#0a0a0a" stroke-width="1.3"/>
<text x="308.80" y="202.60" font-family="Liberation Sans, Arial, Helvetica, sans-serif" font-size="9.0" fill="#111" text-anchor="end" textLength="8.9" lengthAdjust="spacingAndGlyphs">40</text>
<line x1="324.68" y1="291.00" x2="324.68" y2="288.40" stroke="#0a0a0a" stroke-width="0.45"/>
<line x1="337.65" y1="291.00" x2="337.65" y2="288.40" stroke="#0a0a0a" stroke-width="0.45"/>
<line x1="350.62" y1="291.00" x2="350.62" y2="288.40" stroke="#0a0a0a" stroke-width="0.45"/>
<line x1="363.60" y1="291.00" x2="363.60" y2="285.80" stroke="#0a0a0a" stroke-width="1.3"/>
<text x="363.60" y="300.60" font-family="Liberation Sans, Arial, Helvetica, sans-serif" font-size="8.9" fill="#111" text-anchor="middle" textLength="9.2" lengthAdjust="spacingAndGlyphs">20</text>
<line x1="376.57" y1="291.00" x2="376.57" y2="288.40" stroke="#0a0a0a" stroke-width="0.45"/>
<line x1="389.55" y1="291.00" x2="389.55" y2="288.40" stroke="#0a0a0a" stroke-width="0.45"/>
<line x1="402.52" y1="291.00" x2="402.52" y2="288.40" stroke="#0a0a0a" stroke-width="0.45"/>
<line x1="415.50" y1="291.00" x2="415.50" y2="285.80" stroke="#0a0a0a" stroke-width="1.3"/>
<text x="415.50" y="300.60" font-family="Liberation Sans, Arial, Helvetica, sans-serif" font-size="8.9" fill="#111" text-anchor="middle" textLength="9.2" lengthAdjust="spacingAndGlyphs">40</text>
<line x1="428.48" y1="291.00" x2="428.48" y2="288.40" stroke="#0a0a0a" stroke-width="0.45"/>
<line x1="441.45" y1="291.00" x2="441.45" y2="288.40" stroke="#0a0a0a" stroke-width="0.45"/>
<line x1="454.43" y1="291.00" x2="454.43" y2="288.40" stroke="#0a0a0a" stroke-width="0.45"/>
<line x1="467.40" y1="291.00" x2="467.40" y2="285.80" stroke="#0a0a0a" stroke-width="1.3"/>
<text x="467.40" y="300.60" font-family="Liberation Sans, Arial, Helvetica, sans-serif" font-size="8.9" fill="#111" text-anchor="middle" textLength="9.2" lengthAdjust="spacingAndGlyphs">60</text>
<line x1="480.38" y1="291.00" x2="480.38" y2="288.40" stroke="#0a0a0a" stroke-width="0.45"/>
<line x1="493.35" y1="291.00" x2="493.35" y2="288.40" stroke="#0a0a0a" stroke-width="0.45"/>
<line x1="506.33" y1="291.00" x2="506.33" y2="288.40" stroke="#0a0a0a" stroke-width="0.45"/>
<line x1="519.30" y1="291.00" x2="519.30" y2="285.80" stroke="#0a0a0a" stroke-width="1.3"/>
<text x="519.30" y="300.60" font-family="Liberation Sans, Arial, Helvetica, sans-serif" font-size="8.9" fill="#111" text-anchor="middle" textLength="9.2" lengthAdjust="spacingAndGlyphs">80</text>
<line x1="532.27" y1="291.00" x2="532.27" y2="288.40" stroke="#0a0a0a" stroke-width="0.45"/>
<text x="428.50" y="311.20" font-family="Liberation Sans, Arial, Helvetica, sans-serif" font-size="11" font-weight="bold" fill="#0a0a0a" text-anchor="middle" textLength="32.4" lengthAdjust="spacingAndGlyphs">X (mm)</text>
<text transform="translate(295.50 245.00) rotate(-90)" font-family="Liberation Sans, Arial, Helvetica, sans-serif" font-size="10.6" font-weight="bold" fill="#0a0a0a" text-anchor="middle" textLength="37" lengthAdjust="spacingAndGlyphs">Y (mm)</text>
<text x="415.00" y="332.20" font-family="Liberation Serif, DejaVu Serif, serif" font-size="15.8" fill="#1a1a1a" text-anchor="middle">0.5 s</text>
</g>
<text x="275.5" y="353.5" font-family="Liberation Serif, DejaVu Serif, serif" font-size="16" fill="#1a1a1a" text-anchor="middle" textLength="269" lengthAdjust="spacing">Liquid holdup: 25% Pig speed: 0.3 m/s</text>
<line x1="283.8" y1="57" x2="283.8" y2="114" stroke="#dcdce8" stroke-width="0.8"/>
<line x1="0" y1="313.2" x2="46" y2="313.2" stroke="#f3f3f6" stroke-width="0.8"/>
<circle cx="5.6" cy="149.0" r="0.55" fill="#9a9a9a"/>
<circle cx="283.8" cy="149.0" r="0.55" fill="#9a9a9a"/>
<circle cx="286.8" cy="315.6" r="0.55" fill="#9a9a9a"/>
</svg></body></html>
